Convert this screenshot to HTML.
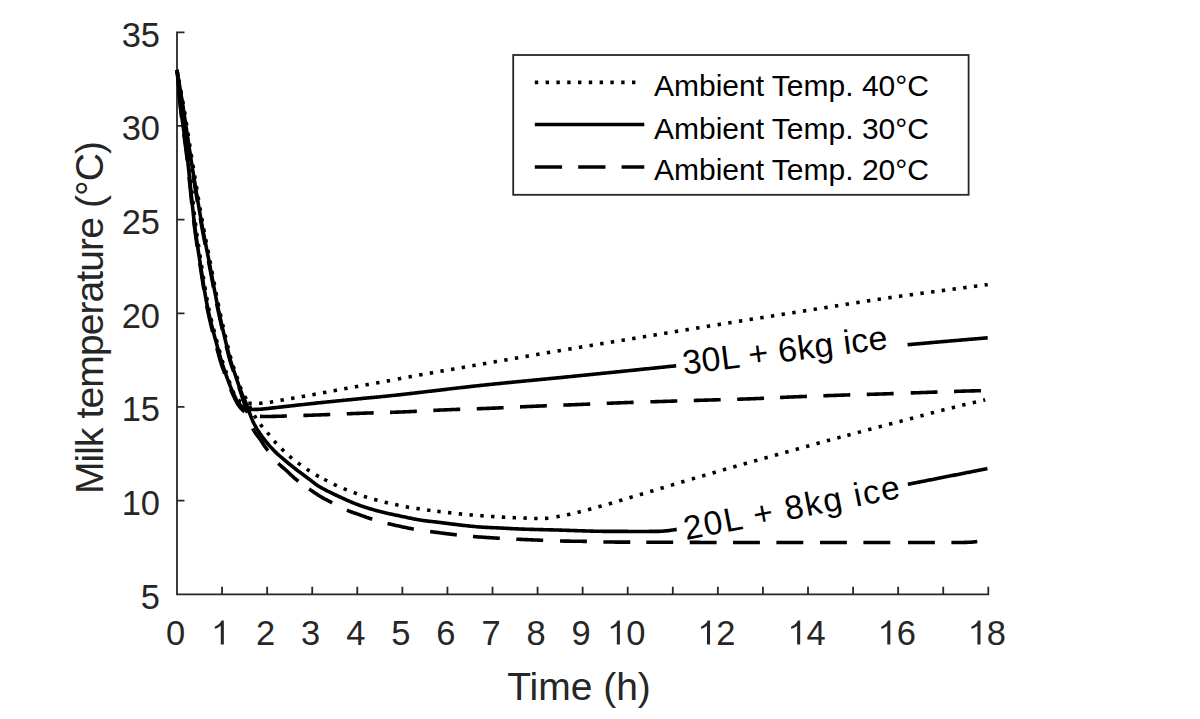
<!DOCTYPE html>
<html><head><meta charset="utf-8"><style>
html,body{margin:0;padding:0;background:#fff;}
svg{display:block;}
text{font-family:"Liberation Sans",sans-serif;}
</style></head><body>
<svg width="1200" height="719" viewBox="0 0 1200 719">
<rect width="1200" height="719" fill="#fff"/>
<g fill="none" stroke="#262626" stroke-width="1.8" stroke-linecap="butt" stroke-linejoin="miter">
<path d="M184.50 32.30H177.00V594.30H988.30V586.80 M177.00 594.30V586.80 M222.07 594.30V586.80 M267.14 594.30V586.80 M312.22 594.30V586.80 M357.29 594.30V586.80 M402.36 594.30V586.80 M447.43 594.30V586.80 M492.51 594.30V586.80 M537.58 594.30V586.80 M582.65 594.30V586.80 M627.72 594.30V586.80 M672.79 594.30V586.80 M717.87 594.30V586.80 M762.94 594.30V586.80 M808.01 594.30V586.80 M853.08 594.30V586.80 M898.16 594.30V586.80 M943.23 594.30V586.80 M988.30 594.30V586.80 M177.00 594.30H184.50 M177.00 500.63H184.50 M177.00 406.97H184.50 M177.00 313.30H184.50 M177.00 219.63H184.50 M177.00 125.97H184.50 M177.00 32.30H184.50"/>
</g>
<g fill="#262626" font-size="34.5">
<text x="165.91" y="644.5">0</text><path d="M223.83 644.50 220.80 644.50 220.80 625.63 219.70 626.61 218.27 627.60 216.64 628.33 214.74 628.87 214.74 626.64 217.38 625.30 219.33 623.75 220.72 622.10 221.54 620.41 223.83 620.41Z"/><text x="256.05" y="644.5">2</text><text x="301.12" y="644.5">3</text><text x="346.20" y="644.5">4</text><text x="391.27" y="644.5">5</text><text x="436.34" y="644.5">6</text><text x="481.41" y="644.5">7</text><text x="526.48" y="644.5">8</text><text x="571.56" y="644.5">9</text><path d="M619.89 644.50 616.86 644.50 616.86 625.63 615.76 626.61 614.33 627.60 612.70 628.33 610.79 628.87 610.79 626.64 613.44 625.30 615.39 623.75 616.77 622.10 617.60 620.41 619.89 620.41Z"/><text x="626.22" y="644.5">0</text><path d="M710.03 644.50 707.00 644.50 707.00 625.63 705.91 626.61 704.47 627.60 702.84 628.33 700.94 628.87 700.94 626.64 703.58 625.30 705.53 623.75 706.92 622.10 707.74 620.41 710.03 620.41Z"/><text x="716.37" y="644.5">2</text><path d="M800.18 644.50 797.14 644.50 797.14 625.63 796.05 626.61 794.62 627.60 792.98 628.33 791.08 628.87 791.08 626.64 793.73 625.30 795.68 623.75 797.06 622.10 797.89 620.41 800.18 620.41Z"/><text x="806.51" y="644.5">4</text><path d="M890.32 644.50 887.29 644.50 887.29 625.63 886.19 626.61 884.76 627.60 883.13 628.33 881.22 628.87 881.22 626.64 883.87 625.30 885.82 623.75 887.21 622.10 888.03 620.41 890.32 620.41Z"/><text x="896.66" y="644.5">6</text><path d="M980.47 644.50 977.43 644.50 977.43 625.63 976.34 626.61 974.91 627.60 973.27 628.33 971.37 628.87 971.37 626.64 974.01 625.30 975.97 623.75 977.35 622.10 978.17 620.41 980.47 620.41Z"/><text x="986.80" y="644.5">8</text>
<text x="160" y="608.50" text-anchor="end">5</text><text x="160" y="514.83" text-anchor="end">10</text><text x="160" y="421.17" text-anchor="end">15</text><text x="160" y="327.50" text-anchor="end">20</text><text x="160" y="233.83" text-anchor="end">25</text><text x="160" y="140.17" text-anchor="end">30</text><text x="160" y="46.50" text-anchor="end">35</text>
</g>
<text x="579" y="700" text-anchor="middle" font-size="39" fill="#262626">Time (h)</text>
<text transform="translate(102.6 318) rotate(-90)" text-anchor="middle" font-size="39" letter-spacing="-0.9" fill="#262626">Milk temperature (°C)</text>
<g fill="none" stroke="#000" stroke-width="3.6" stroke-linejoin="round">
<path d="M177.00 70.00 177.05 70.52 177.11 71.09 177.16 71.69 177.23 72.34 177.29 73.02 177.36 73.74 177.43 74.49 177.50 75.28 177.58 76.10 177.66 76.95 177.74 77.83 177.82 78.74 177.91 79.68 178.00 80.64 178.09 81.63 178.19 82.64 178.28 83.67 178.38 84.72 178.48 85.79 178.59 86.88 178.69 87.98 178.80 89.09 178.91 90.22 179.02 91.36 179.13 92.51 179.25 93.67 179.36 94.83 179.48 96.00 179.60 97.18 179.72 98.36 179.85 99.54 179.97 100.72 180.09 101.90 180.22 103.08 180.35 104.25 180.48 105.42 180.61 106.58 180.74 107.73 180.87 108.87 181.00 110.00 181.11 110.90 181.22 111.81 181.33 112.72 181.44 113.63 181.56 114.55 181.67 115.48 181.79 116.41 181.91 117.34 182.03 118.28 182.16 119.22 182.28 120.16 182.41 121.11 182.54 122.06 182.67 123.02 182.80 123.98 182.93 124.95 183.06 125.92 183.20 126.89 183.33 127.87 183.47 128.85 183.60 129.83 183.74 130.82 183.88 131.82 184.02 132.81 184.16 133.81 184.30 134.82 184.44 135.83 184.58 136.84 184.72 137.85 184.86 138.87 185.00 139.90 185.14 140.92 185.28 141.95 185.42 142.99 185.56 144.02 185.70 145.06 185.84 146.11 185.98 147.16 186.12 148.21 186.26 149.26 186.40 150.32 186.53 151.38 186.67 152.45 186.81 153.52 186.94 154.59 187.07 155.67 187.21 156.74 187.34 157.83 187.47 158.91 187.60 160.00 187.71 160.93 187.82 161.87 187.93 162.82 188.04 163.77 188.15 164.74 188.26 165.71 188.36 166.70 188.47 167.69 188.58 168.68 188.69 169.69 188.80 170.70 188.91 171.72 189.02 172.74 189.13 173.77 189.23 174.80 189.34 175.83 189.45 176.87 189.56 177.92 189.67 178.97 189.78 180.02 189.88 181.07 189.99 182.12 190.10 183.18 190.21 184.24 190.32 185.30 190.42 186.36 190.53 187.42 190.64 188.48 190.75 189.53 190.85 190.59 190.96 191.65 191.07 192.70 191.17 193.75 191.28 194.80 191.39 195.85 191.49 196.89 191.60 197.93 191.71 198.96 191.81 199.99 191.92 201.02 192.02 202.03 192.13 203.05 192.24 204.06 192.34 205.06 192.45 206.05 192.55 207.04 192.66 208.01 192.76 208.98 192.87 209.94 192.97 210.90 193.07 211.84 193.18 212.77 193.28 213.70 193.38 214.61 193.49 215.51 193.59 216.40 193.69 217.28 193.80 218.15 193.90 219.00 194.05 220.21 194.19 221.39 194.33 222.54 194.47 223.68 194.61 224.79 194.75 225.88 194.89 226.95 195.02 228.00 195.16 229.03 195.29 230.05 195.42 231.06 195.56 232.05 195.69 233.02 195.82 233.99 195.95 234.94 196.08 235.89 196.21 236.83 196.34 237.76 196.47 238.68 196.60 239.60 196.73 240.52 196.87 241.44 197.00 242.35 197.14 243.27 197.27 244.18 197.41 245.10 197.55 246.02 197.69 246.95 197.83 247.89 197.97 248.83 198.12 249.78 198.26 250.74 198.41 251.71 198.56 252.69 198.72 253.68 198.87 254.69 199.03 255.72 199.20 256.76 199.36 257.82 199.53 258.90 199.70 260.00 199.84 260.91 199.99 261.84 200.13 262.77 200.27 263.71 200.42 264.66 200.57 265.61 200.71 266.58 200.86 267.55 201.01 268.52 201.16 269.50 201.31 270.49 201.47 271.49 201.62 272.48 201.77 273.49 201.93 274.50 202.08 275.51 202.24 276.52 202.40 277.54 202.56 278.57 202.72 279.59 202.88 280.62 203.04 281.65 203.21 282.68 203.37 283.72 203.54 284.75 203.70 285.79 203.87 286.82 204.04 287.86 204.21 288.89 204.38 289.93 204.56 290.96 204.73 292.00 204.91 293.03 205.08 294.06 205.26 295.08 205.44 296.11 205.62 297.13 205.81 298.15 205.99 299.16 206.17 300.18 206.36 301.18 206.55 302.19 206.74 303.18 206.93 304.18 207.12 305.16 207.31 306.14 207.51 307.12 207.70 308.09 207.90 309.05 208.10 310.00 208.32 311.04 208.55 312.08 208.78 313.13 209.01 314.18 209.25 315.24 209.49 316.30 209.74 317.37 209.99 318.44 210.25 319.51 210.50 320.58 210.77 321.65 211.03 322.72 211.29 323.80 211.56 324.87 211.83 325.94 212.10 327.01 212.38 328.07 212.65 329.14 212.92 330.19 213.20 331.25 213.47 332.30 213.75 333.34 214.03 334.38 214.30 335.40 214.57 336.43 214.85 337.44 215.12 338.44 215.39 339.44 215.66 340.42 215.92 341.39 216.19 342.36 216.45 343.31 216.71 344.24 216.96 345.17 217.22 346.08 217.47 346.97 217.71 347.85 217.95 348.72 218.19 349.57 218.42 350.40 218.65 351.21 218.87 352.01 219.09 352.79 219.30 353.55 219.50 354.28 219.70 355.00 220.14 356.57 220.55 358.03 220.94 359.39 221.32 360.66 221.67 361.85 222.01 362.96 222.33 364.01 222.64 364.99 222.95 365.92 223.24 366.81 223.52 367.66 223.80 368.49 224.08 369.29 224.36 370.08 224.64 370.87 224.92 371.66 225.20 372.46 225.49 373.27 225.79 374.12 226.10 375.00 226.47 376.05 226.84 377.10 227.22 378.13 227.59 379.15 227.96 380.16 228.33 381.15 228.70 382.13 229.07 383.10 229.44 384.05 229.81 384.98 230.17 385.90 230.53 386.80 230.89 387.68 231.25 388.54 231.60 389.38 231.95 390.20 232.30 391.00 232.78 392.10 233.25 393.16 233.72 394.18 234.18 395.16 234.63 396.11 235.08 397.02 235.53 397.90 235.98 398.74 236.43 399.55 236.88 400.33 237.34 401.08 237.80 401.80 238.51 402.82 239.23 403.76 239.95 404.63 240.68 405.43 241.40 406.16 242.12 406.81 242.82 407.39 243.50 407.90 244.52 408.52 245.48 408.90 246.43 409.13 247.42 409.27 248.50 409.40 249.49 409.49 250.54 409.52 251.62 409.51 252.74 409.48 253.87 409.43 255.00 409.40 255.88 409.39 256.64 409.39 257.39 409.38 258.20 409.36 259.18 409.32 260.42 409.23 262.00 409.10 262.70 409.03 263.40 408.97 264.11 408.89 264.84 408.82 265.59 408.73 266.37 408.65 267.18 408.56 268.04 408.46 268.94 408.36 269.89 408.25 270.89 408.13 271.96 408.01 273.10 407.88 274.31 407.74 275.60 407.59 276.97 407.44 278.44 407.27 280.00 407.10 280.74 407.02 281.50 406.93 282.29 406.85 283.11 406.76 283.95 406.66 284.81 406.57 285.69 406.47 286.59 406.37 287.51 406.26 288.45 406.16 289.41 406.05 290.38 405.94 291.37 405.83 292.37 405.72 293.39 405.61 294.42 405.49 295.45 405.38 296.50 405.26 297.56 405.14 298.62 405.03 299.70 404.91 300.77 404.79 301.86 404.67 302.94 404.55 304.03 404.43 305.12 404.31 306.22 404.19 307.31 404.07 308.40 403.95 309.48 403.83 310.57 403.71 311.65 403.59 312.72 403.48 313.79 403.36 314.85 403.25 315.90 403.13 316.94 403.02 317.97 402.91 318.99 402.81 320.00 402.70 321.00 402.60 322.00 402.49 323.00 402.39 324.00 402.28 325.00 402.18 326.00 402.08 327.00 401.98 328.00 401.87 329.00 401.77 330.00 401.67 331.00 401.57 332.00 401.47 333.00 401.37 334.00 401.27 335.00 401.17 336.00 401.07 337.00 400.97 338.00 400.87 339.00 400.77 340.00 400.67 341.00 400.58 342.00 400.48 343.00 400.38 344.00 400.28 345.00 400.18 346.00 400.08 347.00 399.99 348.00 399.89 349.00 399.79 350.00 399.69 351.00 399.59 352.00 399.49 353.00 399.39 354.00 399.30 355.00 399.20 356.00 399.10 357.00 399.00 358.00 398.90 359.00 398.80 360.00 398.70 360.99 398.60 361.95 398.51 362.90 398.41 363.82 398.32 364.73 398.24 365.62 398.15 366.49 398.07 367.36 397.98 368.22 397.90 369.06 397.82 369.90 397.74 370.74 397.66 371.57 397.59 372.41 397.51 373.24 397.43 374.08 397.35 374.92 397.27 375.77 397.19 376.63 397.11 377.50 397.02 378.38 396.94 379.28 396.85 380.19 396.77 381.12 396.67 382.07 396.58 383.04 396.48 384.04 396.39 385.06 396.28 386.11 396.18 387.19 396.07 388.30 395.95 389.44 395.83 390.62 395.71 391.83 395.58 393.09 395.45 394.38 395.31 395.72 395.17 397.10 395.02 398.52 394.86 400.00 394.70 400.76 394.62 401.52 394.53 402.31 394.44 403.10 394.36 403.90 394.27 404.72 394.17 405.54 394.08 406.38 393.98 407.23 393.89 408.09 393.79 408.95 393.69 409.83 393.59 410.72 393.49 411.62 393.38 412.52 393.28 413.44 393.17 414.36 393.06 415.30 392.96 416.24 392.85 417.19 392.74 418.14 392.62 419.11 392.51 420.08 392.40 421.06 392.28 422.05 392.17 423.04 392.05 424.04 391.93 425.04 391.81 426.05 391.69 427.07 391.57 428.09 391.45 429.12 391.33 430.15 391.21 431.19 391.09 432.23 390.96 433.28 390.84 434.33 390.72 435.38 390.59 436.44 390.47 437.50 390.34 438.56 390.22 439.63 390.09 440.70 389.97 441.77 389.84 442.85 389.71 443.92 389.59 445.00 389.46 446.08 389.34 447.16 389.21 448.24 389.08 449.32 388.96 450.41 388.83 451.49 388.70 452.57 388.58 453.66 388.45 454.74 388.33 455.82 388.20 456.90 388.08 457.98 387.95 459.06 387.83 460.14 387.71 461.22 387.58 462.29 387.46 463.36 387.34 464.43 387.22 465.49 387.10 466.56 386.98 467.62 386.86 468.67 386.74 469.73 386.62 470.78 386.51 471.82 386.39 472.86 386.28 473.90 386.16 474.93 386.05 475.95 385.94 476.97 385.83 477.99 385.72 479.00 385.61 480.00 385.50 481.00 385.39 482.01 385.29 483.02 385.18 484.03 385.07 485.04 384.97 486.06 384.86 487.08 384.75 488.11 384.65 489.14 384.54 490.17 384.43 491.20 384.33 492.23 384.22 493.27 384.12 494.31 384.01 495.35 383.91 496.39 383.80 497.43 383.69 498.48 383.59 499.52 383.48 500.57 383.38 501.62 383.28 502.67 383.17 503.72 383.07 504.77 382.96 505.82 382.86 506.87 382.75 507.92 382.65 508.97 382.55 510.02 382.44 511.07 382.34 512.12 382.24 513.17 382.14 514.21 382.03 515.26 381.93 516.31 381.83 517.35 381.73 518.40 381.63 519.44 381.53 520.48 381.43 521.52 381.32 522.56 381.22 523.59 381.12 524.62 381.03 525.65 380.93 526.68 380.83 527.71 380.73 528.73 380.63 529.75 380.53 530.77 380.43 531.78 380.34 532.79 380.24 533.80 380.14 534.80 380.05 535.80 379.95 536.79 379.86 537.79 379.76 538.77 379.67 539.76 379.57 540.73 379.48 541.71 379.38 542.68 379.29 543.64 379.20 544.60 379.10 545.56 379.01 546.50 378.92 547.45 378.83 548.38 378.74 549.32 378.65 550.24 378.56 551.16 378.47 552.08 378.38 552.98 378.29 553.89 378.20 554.78 378.12 555.67 378.03 556.55 377.94 557.42 377.86 558.29 377.77 559.15 377.68 560.00 377.60 561.22 377.48 562.43 377.36 563.62 377.24 564.80 377.12 565.96 377.01 567.10 376.89 568.23 376.78 569.35 376.67 570.45 376.56 571.54 376.45 572.62 376.34 573.68 376.24 574.74 376.13 575.78 376.03 576.81 375.92 577.84 375.82 578.85 375.72 579.86 375.62 580.85 375.52 581.84 375.42 582.82 375.32 583.80 375.22 584.77 375.13 585.73 375.03 586.69 374.93 587.64 374.84 588.60 374.74 589.54 374.65 590.49 374.55 591.43 374.46 592.37 374.36 593.30 374.27 594.24 374.17 595.18 374.08 596.11 373.98 597.05 373.89 597.99 373.79 598.93 373.70 599.87 373.60 600.82 373.51 601.77 373.41 602.72 373.32 603.68 373.22 604.64 373.12 605.61 373.02 606.58 372.92 607.56 372.83 608.55 372.73 609.54 372.62 610.55 372.52 611.56 372.42 612.58 372.32 613.61 372.21 614.65 372.11 615.70 372.00 616.68 371.90 617.67 371.80 618.69 371.70 619.72 371.59 620.77 371.48 621.83 371.38 622.90 371.27 623.99 371.16 625.09 371.04 626.21 370.93 627.33 370.81 628.46 370.70 629.60 370.58 630.75 370.47 631.91 370.35 633.07 370.23 634.23 370.11 635.40 369.99 636.58 369.87 637.75 369.75 638.93 369.63 640.11 369.51 641.28 369.39 642.46 369.27 643.63 369.15 644.80 369.03 645.97 368.91 647.13 368.79 648.28 368.67 649.43 368.55 650.57 368.43 651.70 368.32 652.83 368.20 653.94 368.09 655.04 367.97 656.13 367.86 657.20 367.75 658.26 367.64 659.31 367.54 660.34 367.43 661.35 367.33 662.35 367.22 663.32 367.12 664.28 367.02 665.22 366.93 666.13 366.83 667.03 366.74 667.90 366.65 668.74 366.57 669.56 366.48 670.36 366.40 671.13 366.32 671.87 366.24 672.58 366.17 673.26 366.10 673.91 366.03 674.53 365.97 675.12 365.91 675.68 365.85 676.20 365.80"/>
<path d="M907.60 344.70 908.13 344.65 908.71 344.60 909.33 344.55 910.00 344.49 910.72 344.43 911.47 344.36 912.27 344.29 913.10 344.22 913.97 344.14 914.87 344.06 915.80 343.98 916.76 343.90 917.75 343.81 918.77 343.72 919.81 343.63 920.87 343.54 921.95 343.44 923.05 343.35 924.17 343.25 925.30 343.15 926.44 343.05 927.60 342.95 928.76 342.85 929.93 342.74 931.11 342.64 932.29 342.54 933.47 342.44 934.64 342.33 935.82 342.23 936.99 342.13 938.16 342.03 939.31 341.93 940.46 341.83 941.59 341.73 942.71 341.63 943.82 341.53 944.90 341.44 945.97 341.35 947.02 341.26 948.04 341.17 949.03 341.08 950.00 341.00 951.09 340.91 952.20 340.81 953.33 340.71 954.47 340.62 955.63 340.52 956.80 340.42 957.97 340.32 959.15 340.22 960.34 340.12 961.53 340.01 962.72 339.91 963.91 339.81 965.10 339.71 966.29 339.61 967.46 339.51 968.63 339.41 969.79 339.31 970.93 339.22 972.06 339.12 973.18 339.03 974.27 338.93 975.35 338.84 976.40 338.75 977.43 338.67 978.43 338.58 979.41 338.50 980.35 338.42 981.26 338.34 982.14 338.27 982.98 338.20 983.78 338.13 984.55 338.07 985.27 338.01 985.95 337.95 986.58 337.89 987.17 337.85 987.70 337.80"/>
<path d="M177.00 70.00 177.08 70.52 177.18 71.09 177.28 71.69 177.38 72.34 177.49 73.02 177.61 73.74 177.74 74.49 177.87 75.28 178.00 76.10 178.14 76.95 178.29 77.83 178.44 78.74 178.59 79.68 178.75 80.64 178.91 81.63 179.08 82.64 179.25 83.67 179.42 84.72 179.60 85.79 179.78 86.88 179.96 87.98 180.14 89.09 180.32 90.22 180.51 91.36 180.70 92.51 180.88 93.67 181.07 94.83 181.26 96.00 181.45 97.18 181.65 98.36 181.84 99.54 182.03 100.72 182.21 101.90 182.40 103.08 182.59 104.25 182.78 105.42 182.96 106.58 183.14 107.73 183.32 108.87 183.50 110.00 183.64 110.90 183.78 111.81 183.92 112.72 184.06 113.63 184.21 114.55 184.35 115.48 184.49 116.41 184.63 117.34 184.77 118.28 184.91 119.22 185.06 120.16 185.20 121.11 185.34 122.06 185.49 123.02 185.63 123.98 185.77 124.95 185.92 125.92 186.06 126.89 186.21 127.87 186.36 128.85 186.50 129.83 186.65 130.82 186.80 131.82 186.94 132.81 187.09 133.81 187.24 134.82 187.39 135.83 187.54 136.84 187.70 137.85 187.85 138.87 188.00 139.90 188.16 140.92 188.31 141.95 188.47 142.99 188.62 144.02 188.78 145.06 188.94 146.11 189.10 147.16 189.26 148.21 189.42 149.26 189.58 150.32 189.75 151.38 189.91 152.45 190.08 153.52 190.25 154.59 190.41 155.67 190.58 156.74 190.75 157.83 190.93 158.91 191.10 160.00 191.25 160.93 191.40 161.87 191.55 162.82 191.70 163.77 191.86 164.74 192.02 165.71 192.17 166.70 192.33 167.69 192.49 168.68 192.66 169.69 192.82 170.70 192.98 171.72 193.15 172.74 193.31 173.77 193.48 174.80 193.65 175.83 193.82 176.87 193.99 177.92 194.16 178.97 194.33 180.02 194.50 181.07 194.68 182.12 194.85 183.18 195.02 184.24 195.20 185.30 195.37 186.36 195.54 187.42 195.72 188.48 195.89 189.53 196.07 190.59 196.24 191.65 196.42 192.70 196.59 193.75 196.77 194.80 196.94 195.85 197.12 196.89 197.29 197.93 197.46 198.96 197.64 199.99 197.81 201.02 197.98 202.03 198.15 203.05 198.32 204.06 198.49 205.06 198.66 206.05 198.83 207.04 198.99 208.01 199.16 208.98 199.32 209.94 199.49 210.90 199.65 211.84 199.81 212.77 199.97 213.70 200.13 214.61 200.29 215.51 200.44 216.40 200.60 217.28 200.75 218.15 200.90 219.00 201.11 220.21 201.33 221.39 201.53 222.54 201.74 223.68 201.94 224.79 202.14 225.88 202.34 226.95 202.53 228.00 202.73 229.03 202.92 230.05 203.11 231.06 203.30 232.05 203.48 233.02 203.67 233.99 203.85 234.94 204.04 235.89 204.22 236.83 204.40 237.76 204.58 238.68 204.77 239.60 204.95 240.52 205.13 241.44 205.31 242.35 205.49 243.27 205.67 244.18 205.86 245.10 206.04 246.02 206.23 246.95 206.41 247.89 206.60 248.83 206.79 249.78 206.98 250.74 207.17 251.71 207.37 252.69 207.57 253.68 207.76 254.69 207.97 255.72 208.17 256.76 208.38 257.82 208.59 258.90 208.80 260.00 208.98 260.91 209.15 261.84 209.33 262.77 209.51 263.71 209.69 264.66 209.88 265.61 210.06 266.58 210.24 267.55 210.43 268.52 210.61 269.50 210.80 270.49 210.99 271.49 211.17 272.48 211.36 273.49 211.55 274.50 211.74 275.51 211.93 276.52 212.13 277.54 212.32 278.57 212.51 279.59 212.71 280.62 212.90 281.65 213.10 282.68 213.29 283.72 213.49 284.75 213.68 285.79 213.88 286.82 214.08 287.86 214.28 288.89 214.48 289.93 214.67 290.96 214.87 292.00 215.07 293.03 215.27 294.06 215.47 295.08 215.68 296.11 215.88 297.13 216.08 298.15 216.28 299.16 216.48 300.18 216.68 301.18 216.88 302.19 217.09 303.18 217.29 304.18 217.49 305.16 217.69 306.14 217.89 307.12 218.10 308.09 218.30 309.05 218.50 310.00 218.72 311.04 218.94 312.08 219.17 313.13 219.40 314.18 219.63 315.24 219.86 316.30 220.10 317.37 220.33 318.44 220.57 319.51 220.81 320.58 221.05 321.65 221.29 322.72 221.53 323.80 221.77 324.87 222.02 325.94 222.26 327.01 222.50 328.07 222.75 329.14 222.99 330.19 223.23 331.25 223.48 332.30 223.72 333.34 223.96 334.38 224.20 335.40 224.44 336.43 224.68 337.44 224.92 338.44 225.16 339.44 225.39 340.42 225.63 341.39 225.86 342.36 226.09 343.31 226.32 344.24 226.54 345.17 226.76 346.08 226.98 346.97 227.20 347.85 227.41 348.72 227.62 349.57 227.83 350.40 228.04 351.21 228.24 352.01 228.43 352.79 228.63 353.55 228.82 354.28 229.00 355.00 229.41 356.57 229.80 358.03 230.18 359.38 230.54 360.65 230.88 361.83 231.21 362.93 231.53 363.97 231.84 364.94 232.14 365.87 232.44 366.75 232.73 367.60 233.01 368.42 233.29 369.22 233.57 370.01 233.85 370.80 234.13 371.59 234.42 372.40 234.71 373.23 235.00 374.10 235.30 375.00 235.66 376.08 236.01 377.16 236.37 378.22 236.72 379.28 237.07 380.32 237.42 381.36 237.76 382.38 238.11 383.40 238.45 384.40 238.80 385.39 239.14 386.37 239.48 387.34 239.83 388.30 240.17 389.24 240.51 390.17 240.86 391.09 241.20 392.00 241.62 393.07 242.03 394.10 242.44 395.09 242.85 396.05 243.26 396.99 243.67 397.91 244.07 398.83 244.48 399.74 244.90 400.66 245.31 401.59 245.73 402.55 246.15 403.53 246.57 404.54 247.00 405.60 247.35 406.50 247.70 407.43 248.05 408.38 248.39 409.34 248.74 410.33 249.08 411.32 249.43 412.33 249.78 413.34 250.13 414.35 250.50 415.36 250.86 416.38 251.24 417.38 251.63 418.38 252.03 419.36 252.44 420.32 252.86 421.27 253.30 422.20 253.75 423.11 254.21 424.01 254.69 424.90 255.17 425.78 255.66 426.66 256.16 427.52 256.66 428.38 257.18 429.23 257.71 430.08 258.24 430.92 258.78 431.76 259.33 432.59 259.89 433.42 260.46 434.24 261.03 435.06 261.61 435.88 262.20 436.70 262.80 437.52 263.41 438.34 264.04 439.16 264.68 439.98 265.33 440.80 265.99 441.62 266.65 442.43 267.32 443.23 268.00 444.03 268.68 444.82 269.36 445.60 270.04 446.37 270.72 447.12 271.40 447.87 272.07 448.59 272.74 449.31 273.40 450.00 274.20 450.82 274.99 451.61 275.79 452.38 276.58 453.13 277.37 453.86 278.16 454.57 278.96 455.27 279.75 455.96 280.54 456.64 281.33 457.31 282.12 457.98 282.92 458.65 283.71 459.32 284.50 460.00 285.29 460.67 286.07 461.33 286.84 461.98 287.60 462.62 288.37 463.25 289.14 463.87 289.91 464.50 290.68 465.13 291.47 465.75 292.26 466.38 293.07 467.02 293.89 467.67 294.74 468.33 295.60 469.00 296.38 469.60 297.18 470.22 298.00 470.84 298.84 471.48 299.70 472.12 300.56 472.76 301.43 473.41 302.31 474.06 303.18 474.71 304.05 475.35 304.91 475.99 305.76 476.62 306.60 477.23 307.42 477.84 308.22 478.43 309.00 479.00 309.90 479.68 310.73 480.32 311.52 480.94 312.27 481.54 313.00 482.13 313.72 482.71 314.46 483.29 315.22 483.87 316.03 484.46 316.90 485.06 317.84 485.68 318.87 486.32 320.00 487.00 320.72 487.41 321.48 487.84 322.27 488.27 323.09 488.72 323.93 489.17 324.81 489.62 325.70 490.09 326.61 490.55 327.54 491.02 328.48 491.49 329.44 491.97 330.40 492.44 331.37 492.92 332.35 493.39 333.33 493.86 334.30 494.33 335.27 494.79 336.24 495.25 337.20 495.70 338.15 496.14 339.08 496.57 340.00 497.00 340.95 497.44 341.90 497.88 342.86 498.31 343.81 498.75 344.76 499.18 345.71 499.61 346.67 500.04 347.62 500.46 348.57 500.88 349.52 501.29 350.48 501.70 351.43 502.11 352.38 502.51 353.33 502.91 354.29 503.30 355.24 503.68 356.19 504.06 357.14 504.43 358.10 504.79 359.05 505.15 360.00 505.50 361.00 505.86 362.00 506.21 363.00 506.55 364.00 506.88 365.00 507.21 366.00 507.53 367.00 507.84 368.00 508.15 369.00 508.45 370.00 508.75 371.00 509.04 372.00 509.33 373.00 509.61 374.00 509.89 375.00 510.16 376.00 510.44 377.00 510.71 378.00 510.97 379.00 511.24 380.00 511.50 381.00 511.76 382.00 512.01 383.00 512.26 384.00 512.50 385.00 512.74 386.00 512.98 387.00 513.21 388.00 513.43 389.00 513.65 390.00 513.88 391.00 514.09 392.00 514.31 393.00 514.52 394.00 514.73 395.00 514.95 396.00 515.16 397.00 515.37 398.00 515.58 399.00 515.79 400.00 516.00 401.00 516.21 402.00 516.43 403.00 516.64 404.00 516.86 405.00 517.07 406.00 517.28 407.00 517.50 408.00 517.71 409.00 517.92 410.00 518.12 411.00 518.33 412.00 518.53 413.00 518.73 414.00 518.93 415.00 519.12 416.00 519.30 417.00 519.49 418.00 519.66 419.00 519.83 420.00 520.00 421.00 520.16 422.00 520.31 423.00 520.46 424.00 520.60 425.00 520.73 426.00 520.86 427.00 520.99 428.00 521.11 429.00 521.23 430.00 521.34 431.00 521.46 432.00 521.57 433.00 521.68 434.00 521.80 435.00 521.91 436.00 522.02 437.00 522.14 438.00 522.26 439.00 522.38 440.00 522.50 441.00 522.63 442.00 522.75 443.00 522.88 444.00 523.01 445.00 523.14 446.00 523.27 447.00 523.39 448.00 523.52 449.00 523.65 450.00 523.78 451.00 523.91 452.00 524.04 453.00 524.16 454.00 524.29 455.00 524.41 456.00 524.53 457.00 524.65 458.00 524.77 459.00 524.89 460.00 525.00 461.00 525.11 462.00 525.22 463.00 525.34 464.00 525.45 465.00 525.56 466.00 525.67 467.00 525.78 468.00 525.88 469.00 525.99 470.00 526.09 471.00 526.20 472.00 526.30 473.00 526.39 474.00 526.49 475.00 526.58 476.00 526.67 477.00 526.76 478.00 526.84 479.00 526.92 480.00 527.00 481.00 527.07 482.00 527.14 483.00 527.20 484.00 527.26 485.00 527.32 486.00 527.37 487.00 527.42 488.00 527.47 489.00 527.52 490.00 527.56 491.00 527.61 492.00 527.65 493.00 527.69 494.00 527.73 495.00 527.77 496.00 527.82 497.00 527.86 498.00 527.90 499.00 527.95 500.00 528.00 501.00 528.05 502.00 528.10 503.00 528.15 504.00 528.21 505.00 528.26 506.00 528.31 507.00 528.37 508.00 528.42 509.00 528.47 510.00 528.52 511.00 528.58 512.00 528.63 513.00 528.68 514.00 528.73 515.00 528.78 516.00 528.83 517.00 528.87 518.00 528.92 519.00 528.96 520.00 529.00 521.00 529.04 522.00 529.08 523.00 529.11 524.00 529.15 525.00 529.18 526.00 529.21 527.00 529.24 528.00 529.27 529.00 529.30 530.00 529.33 531.00 529.36 532.00 529.39 533.00 529.41 534.00 529.44 535.00 529.47 536.00 529.49 537.00 529.52 538.00 529.55 539.00 529.57 540.00 529.60 540.98 529.63 541.93 529.65 542.86 529.67 543.76 529.70 544.65 529.72 545.53 529.74 546.40 529.76 547.28 529.78 548.16 529.80 549.06 529.82 549.98 529.84 550.92 529.86 551.89 529.88 552.90 529.91 553.95 529.94 555.04 529.96 556.19 529.99 557.39 530.03 558.66 530.06 560.00 530.10 560.80 530.12 561.64 530.15 562.50 530.18 563.40 530.20 564.32 530.23 565.26 530.26 566.23 530.30 567.22 530.33 568.22 530.36 569.25 530.40 570.29 530.43 571.34 530.47 572.41 530.50 573.48 530.54 574.56 530.58 575.65 530.61 576.75 530.65 577.84 530.69 578.94 530.72 580.03 530.76 581.12 530.80 582.21 530.83 583.29 530.87 584.36 530.90 585.42 530.93 586.46 530.97 587.49 531.00 588.51 531.03 589.51 531.06 590.48 531.08 591.44 531.11 592.37 531.14 593.27 531.16 594.15 531.18 595.00 531.20 596.24 531.23 597.41 531.25 598.53 531.27 599.60 531.29 600.63 531.31 601.62 531.32 602.58 531.33 603.51 531.34 604.42 531.35 605.32 531.36 606.21 531.37 607.09 531.37 607.98 531.38 608.88 531.38 609.79 531.38 610.72 531.38 611.68 531.38 612.67 531.39 613.70 531.39 614.77 531.39 615.89 531.39 617.06 531.40 618.30 531.40 619.15 531.40 620.04 531.41 620.96 531.41 621.91 531.41 622.89 531.41 623.90 531.42 624.92 531.42 625.97 531.42 627.04 531.42 628.13 531.43 629.22 531.43 630.33 531.43 631.45 531.43 632.58 531.43 633.70 531.43 634.83 531.44 635.96 531.44 637.09 531.44 638.21 531.44 639.32 531.44 640.42 531.44 641.50 531.44 642.57 531.44 643.63 531.44 644.66 531.43 645.67 531.43 646.65 531.43 647.60 531.43 648.53 531.43 649.42 531.42 650.28 531.42 651.10 531.42 651.87 531.41 652.61 531.41 653.30 531.40 655.24 531.38 656.85 531.37 658.17 531.35 659.27 531.33 660.19 531.31 660.99 531.29 661.73 531.25 662.44 531.21 663.19 531.15 664.02 531.08 665.00 531.00 666.11 530.89 667.29 530.76 668.51 530.61 669.75 530.44 670.98 530.26 672.17 530.09 673.31 529.91 674.35 529.75 675.28 529.61 676.08 529.49 676.70 529.40"/>
<path d="M907.80 484.30 908.31 484.20 908.85 484.09 909.43 483.98 910.05 483.86 910.69 483.73 911.37 483.60 912.08 483.46 912.82 483.31 913.59 483.16 914.38 483.00 915.21 482.84 916.06 482.67 916.93 482.50 917.83 482.32 918.76 482.14 919.71 481.95 920.68 481.76 921.67 481.56 922.68 481.37 923.71 481.16 924.76 480.96 925.82 480.75 926.91 480.53 928.00 480.31 929.12 480.10 930.24 479.87 931.39 479.65 932.54 479.42 933.70 479.19 934.88 478.96 936.06 478.73 937.25 478.49 938.45 478.25 939.66 478.02 940.87 477.78 942.09 477.54 943.31 477.30 944.53 477.06 945.76 476.81 946.99 476.57 948.21 476.33 949.44 476.09 950.67 475.84 951.89 475.60 953.11 475.36 954.33 475.12 955.54 474.88 956.75 474.65 957.95 474.41 959.14 474.17 960.32 473.94 961.50 473.71 962.66 473.48 963.81 473.25 964.96 473.03 966.08 472.80 967.20 472.59 968.29 472.37 969.38 472.15 970.44 471.94 971.49 471.74 972.52 471.53 973.53 471.34 974.52 471.14 975.49 470.95 976.44 470.76 977.37 470.58 978.27 470.40 979.14 470.23 979.99 470.06 980.82 469.90 981.61 469.74 982.38 469.59 983.12 469.44 983.83 469.30 984.51 469.17 985.15 469.04 985.77 468.92 986.35 468.81 986.89 468.70 987.40 468.60"/>
<path d="M177.00 70.00 177.06 70.52 177.13 71.09 177.20 71.69 177.28 72.34 177.36 73.02 177.44 73.74 177.53 74.49 177.62 75.28 177.72 76.10 177.82 76.95 177.92 77.83 178.03 78.74 178.14 79.68 178.25 80.64 178.36 81.63 178.48 82.64 178.60 83.67 178.73 84.72 178.85 85.79 178.98 86.88 179.11 87.98 179.24 89.09 179.38 90.22 179.51 91.36 179.65 92.51 179.79 93.67 179.93 94.83 180.07 96.00 180.21 97.18 180.35 98.36 180.50 99.54 180.64 100.72 180.79 101.90 180.93 103.08 181.08 104.25 181.22 105.42 181.37 106.58 181.51 107.73 181.66 108.87 181.80 110.00 181.92 110.90 182.03 111.81 182.15 112.72 182.27 113.63 182.39 114.55 182.52 115.48 182.64 116.41 182.77 117.34 182.90 118.28 183.02 119.22 183.15 120.16 183.28 121.11 183.41 122.06 183.55 123.02 183.68 123.98 183.81 124.95 183.95 125.92 184.08 126.89 184.22 127.87 184.36 128.85 184.50 129.83 184.63 130.82 184.77 131.82 184.91 132.81 185.05 133.81 185.19 134.82 185.33 135.83 185.47 136.84 185.61 137.85 185.75 138.87 185.89 139.90 186.03 140.92 186.17 141.95 186.31 142.99 186.45 144.02 186.59 145.06 186.73 146.11 186.87 147.16 187.01 148.21 187.15 149.26 187.29 150.32 187.42 151.38 187.56 152.45 187.70 153.52 187.83 154.59 187.97 155.67 188.10 156.74 188.24 157.83 188.37 158.91 188.50 160.00 188.61 160.93 188.72 161.87 188.83 162.82 188.94 163.77 189.05 164.74 189.17 165.71 189.28 166.70 189.39 167.69 189.50 168.68 189.61 169.69 189.72 170.70 189.83 171.72 189.94 172.74 190.05 173.77 190.16 174.80 190.27 175.83 190.38 176.87 190.49 177.92 190.60 178.97 190.71 180.02 190.82 181.07 190.93 182.12 191.04 183.18 191.15 184.24 191.26 185.30 191.37 186.36 191.48 187.42 191.59 188.48 191.70 189.53 191.81 190.59 191.92 191.65 192.03 192.70 192.14 193.75 192.25 194.80 192.35 195.85 192.46 196.89 192.57 197.93 192.68 198.96 192.79 199.99 192.89 201.02 193.00 202.03 193.11 203.05 193.22 204.06 193.32 205.06 193.43 206.05 193.54 207.04 193.64 208.01 193.75 208.98 193.85 209.94 193.96 210.90 194.06 211.84 194.17 212.77 194.28 213.70 194.38 214.61 194.48 215.51 194.59 216.40 194.69 217.28 194.80 218.15 194.90 219.00 195.05 220.21 195.19 221.39 195.34 222.54 195.48 223.68 195.62 224.79 195.76 225.88 195.89 226.95 196.03 228.00 196.16 229.03 196.30 230.05 196.43 231.06 196.56 232.05 196.69 233.02 196.83 233.99 196.96 234.94 197.09 235.89 197.22 236.83 197.35 237.76 197.48 238.68 197.61 239.60 197.74 240.52 197.87 241.44 198.01 242.35 198.14 243.27 198.28 244.18 198.41 245.10 198.55 246.02 198.69 246.95 198.83 247.89 198.97 248.83 199.12 249.78 199.26 250.74 199.41 251.71 199.56 252.69 199.72 253.68 199.87 254.69 200.03 255.72 200.20 256.76 200.36 257.82 200.53 258.90 200.70 260.00 200.84 260.91 200.99 261.84 201.13 262.77 201.27 263.71 201.42 264.66 201.57 265.61 201.71 266.58 201.86 267.55 202.01 268.52 202.16 269.50 202.31 270.49 202.47 271.49 202.62 272.48 202.77 273.49 202.93 274.50 203.08 275.51 203.24 276.52 203.40 277.54 203.56 278.57 203.72 279.59 203.88 280.62 204.04 281.65 204.21 282.68 204.37 283.72 204.54 284.75 204.70 285.79 204.87 286.82 205.04 287.86 205.21 288.89 205.38 289.93 205.56 290.96 205.73 292.00 205.91 293.03 206.08 294.06 206.26 295.08 206.44 296.11 206.62 297.13 206.81 298.15 206.99 299.16 207.17 300.18 207.36 301.18 207.55 302.19 207.74 303.18 207.93 304.18 208.12 305.16 208.31 306.14 208.51 307.12 208.70 308.09 208.90 309.05 209.10 310.00 209.32 311.04 209.55 312.08 209.78 313.13 210.01 314.18 210.25 315.24 210.49 316.30 210.74 317.37 210.99 318.44 211.25 319.51 211.50 320.58 211.77 321.65 212.03 322.72 212.29 323.80 212.56 324.87 212.83 325.94 213.10 327.01 213.38 328.07 213.65 329.14 213.92 330.19 214.20 331.25 214.47 332.30 214.75 333.34 215.03 334.38 215.30 335.40 215.57 336.43 215.85 337.44 216.12 338.44 216.39 339.44 216.66 340.42 216.92 341.39 217.19 342.36 217.45 343.31 217.71 344.24 217.96 345.17 218.22 346.08 218.47 346.97 218.71 347.85 218.95 348.72 219.19 349.57 219.42 350.40 219.65 351.21 219.87 352.01 220.09 352.79 220.30 353.55 220.50 354.28 220.70 355.00 221.14 356.57 221.55 358.03 221.95 359.39 222.32 360.66 222.68 361.85 223.02 362.96 223.35 364.01 223.67 364.99 223.97 365.92 224.27 366.81 224.56 367.66 224.84 368.49 225.12 369.29 225.40 370.08 225.67 370.87 225.95 371.66 226.23 372.46 226.51 373.27 226.80 374.12 227.10 375.00 227.48 376.12 227.85 377.24 228.22 378.35 228.59 379.46 228.95 380.55 229.31 381.62 229.67 382.68 230.03 383.72 230.38 384.73 230.73 385.73 231.08 386.69 231.43 387.62 231.77 388.52 232.12 389.39 232.46 390.21 232.80 391.00 233.40 392.30 233.98 393.49 234.56 394.58 235.13 395.58 235.70 396.49 236.26 397.33 236.83 398.10 237.41 398.82 238.00 399.50 238.89 400.38 239.77 401.09 240.67 401.65 241.58 402.10 242.52 402.47 243.50 402.80 244.48 403.05 245.44 403.20 246.43 403.26 247.49 403.28 248.66 403.28 250.00 403.30 250.90 403.32 251.87 403.34 252.89 403.35 253.97 403.36 255.08 403.36 256.20 403.35 257.34 403.33 258.48 403.30 259.60 403.26 260.70 403.20 261.78 403.13 262.87 403.04 263.96 402.95 265.06 402.84 266.15 402.72 267.24 402.59 268.34 402.45 269.43 402.31 270.52 402.16 271.60 402.00 272.63 401.84 273.58 401.68 274.49 401.51 275.39 401.34 276.30 401.16 277.27 400.96 278.32 400.75 279.48 400.52 280.80 400.27 282.30 400.00 283.09 399.86 283.92 399.71 284.79 399.56 285.70 399.40 286.64 399.24 287.61 399.07 288.61 398.90 289.64 398.72 290.69 398.54 291.75 398.36 292.83 398.18 293.92 397.99 295.01 397.80 296.11 397.61 297.21 397.42 298.30 397.23 299.39 397.04 300.46 396.85 301.53 396.67 302.57 396.48 303.60 396.30 304.61 396.12 305.63 395.94 306.64 395.75 307.66 395.57 308.67 395.39 309.68 395.20 310.70 395.02 311.71 394.83 312.72 394.65 313.74 394.46 314.75 394.28 315.76 394.09 316.78 393.90 317.79 393.71 318.81 393.53 319.82 393.34 320.84 393.15 321.85 392.96 322.87 392.78 323.88 392.59 324.90 392.40 325.92 392.21 326.93 392.02 327.95 391.83 328.97 391.64 329.99 391.45 331.01 391.26 332.03 391.07 333.05 390.87 334.07 390.68 335.09 390.49 336.11 390.30 337.13 390.11 338.15 389.91 339.17 389.72 340.19 389.53 341.21 389.34 342.23 389.15 343.25 388.96 344.27 388.77 345.28 388.59 346.30 388.40 347.32 388.21 348.33 388.03 349.35 387.85 350.36 387.67 351.38 387.48 352.39 387.30 353.40 387.12 354.42 386.94 355.43 386.76 356.44 386.58 357.46 386.40 358.47 386.23 359.48 386.05 360.50 385.87 361.51 385.69 362.52 385.51 363.54 385.33 364.55 385.15 365.57 384.96 366.58 384.78 367.60 384.60 368.62 384.42 369.64 384.23 370.66 384.05 371.68 383.86 372.70 383.68 373.72 383.50 374.74 383.31 375.76 383.13 376.79 382.94 377.81 382.76 378.83 382.57 379.85 382.38 380.87 382.20 381.89 382.01 382.91 381.82 383.93 381.64 384.95 381.45 385.96 381.26 386.98 381.08 387.99 380.89 389.00 380.70 389.96 380.52 390.81 380.36 391.59 380.21 392.31 380.07 392.97 379.93 393.60 379.81 394.21 379.68" stroke-dasharray="3.40 7.40" stroke-dashoffset="8.37" />
<path d="M394.21 379.68 394.83 379.56 395.46 379.43 396.12 379.29 396.82 379.15 397.59 379.00 398.44 378.83 399.39 378.65 400.44 378.45 401.62 378.23 402.95 377.98 404.43 377.71 406.09 377.40 407.94 377.07 410.00 376.70 410.65 376.58 411.32 376.46 412.00 376.34 412.70 376.22 413.42 376.09 414.15 375.96 414.90 375.83 415.66 375.69 416.44 375.55 417.23 375.41 418.04 375.27 418.86 375.12 419.70 374.97 420.54 374.82 421.41 374.67 422.28 374.52 423.16 374.36 424.06 374.20 424.97 374.04 425.89 373.88 426.82 373.71 427.77 373.55 428.72 373.38 429.68 373.21 430.65 373.04 431.63 372.87 432.62 372.69 433.62 372.52 434.63 372.34 435.65 372.16 436.67 371.98 437.70 371.80 438.74 371.62 439.78 371.43 440.83 371.25 441.88 371.06 442.95 370.88 444.01 370.69 445.08 370.50 446.16 370.31 447.24 370.12 448.33 369.93 449.41 369.74 450.51 369.55 451.60 369.36 452.70 369.17 453.80 368.98 454.90 368.78 456.00 368.59 457.10 368.40 458.21 368.20 459.32 368.01 460.42 367.82 461.53 367.62 462.63 367.43 463.74 367.24 464.84 367.04 465.94 366.85 467.04 366.66 468.14 366.47 469.24 366.28 470.33 366.09 471.42 365.89 472.51 365.71 473.59 365.52 474.67 365.33 475.75 365.14 476.82 364.95 477.89 364.77 478.95 364.58 480.00 364.40 480.93 364.24 481.87 364.07 482.81 363.91 483.75 363.75 484.70 363.58 485.65 363.42 486.60 363.25 487.55 363.08 488.50 362.92 489.46 362.75 490.42 362.58 491.38 362.42 492.34 362.25 493.31 362.08 494.27 361.91 495.24 361.74 496.21 361.57 497.19 361.40 498.16 361.23 499.14 361.06 500.12 360.89 501.10 360.72 502.08 360.55 503.06 360.38 504.05 360.21 505.03 360.04 506.02 359.86 507.01 359.69 508.00 359.52 508.99 359.35 509.99 359.17 510.98 359.00 511.98 358.83 512.98 358.66 513.97 358.48 514.97 358.31 515.97 358.13 516.98 357.96 517.98 357.79 518.98 357.61 519.99 357.44 520.99 357.26 522.00 357.09 523.00 356.92 524.01 356.74 525.02 356.57 526.02 356.39 527.03 356.22 528.04 356.04 529.05 355.87 530.06 355.70 531.07 355.52 532.08 355.35 533.09 355.17 534.10 355.00 535.11 354.82 536.13 354.65 537.14 354.48 538.15 354.30 539.16 354.13 540.17 353.96 541.18 353.78 542.19 353.61 543.20 353.44 544.21 353.26 545.22 353.09 546.23 352.92 547.24 352.75 548.25 352.57 549.26 352.40 550.26 352.23 551.27 352.06 552.28 351.89 553.28 351.72" stroke-dasharray="3.40 7.40" stroke-dashoffset="7.04" />
<path d="M553.28 351.72 554.29 351.55 555.29 351.38 556.30 351.21 557.30 351.04 558.30 350.87 559.30 350.70 560.29 350.53 561.28 350.37 562.27 350.20 563.25 350.03 564.24 349.87 565.24 349.70 566.23 349.54 567.22 349.37 568.21 349.20 569.20 349.04 570.19 348.87 571.19 348.71 572.18 348.54 573.17 348.38 574.17 348.21 575.16 348.04 576.16 347.88 577.15 347.71 578.15 347.55 579.14 347.38 580.14 347.22 581.14 347.05 582.13 346.89 583.13 346.72 584.13 346.56 585.12 346.39 586.12 346.23 587.12 346.07 588.12 345.90 589.12 345.74 590.11 345.57 591.11 345.41 592.11 345.24 593.11 345.08 594.11 344.91 595.11 344.75 596.11 344.59 597.11 344.42 598.11 344.26 599.11 344.09 600.11 343.93 601.11 343.77 602.11 343.60 603.10 343.44 604.10 343.28 605.10 343.11 606.10 342.95 607.10 342.78 608.10 342.62 609.10 342.46 610.10 342.29 611.10 342.13 612.10 341.97 613.10 341.80 614.10 341.64 615.10 341.48 616.10 341.31 617.10 341.15 618.09 340.99 619.09 340.82 620.09 340.66 621.09 340.50 622.09 340.33 623.08 340.17 624.08 340.01 625.08 339.85 626.08 339.68 627.07 339.52 628.07 339.36 629.07 339.19 630.06 339.03 631.06 338.87 632.05 338.70 633.05 338.54 634.04 338.38 635.04 338.21 636.03 338.05 637.02 337.89 638.02 337.73 639.01 337.56 640.00 337.40 640.99 337.24 641.98 337.07 642.97 336.91 643.97 336.75 644.96 336.59 645.95 336.42 646.94 336.26 647.93 336.10 648.92 335.93 649.91 335.77 650.90 335.61 651.89 335.44 652.88 335.28 653.87 335.12 654.86 334.96 655.85 334.79 656.84 334.63 657.82 334.47 658.81 334.30 659.80 334.14 660.79 333.98 661.78 333.82 662.77 333.65 663.76 333.49 664.74 333.33 665.73 333.17 666.72 333.00 667.71 332.84 668.69 332.68 669.68 332.52 670.67 332.35 671.66 332.19 672.64 332.03 673.63 331.87 674.62 331.70 675.60 331.54 676.59 331.38 677.58 331.22 678.56 331.06 679.55 330.89 680.54 330.73 681.52 330.57 682.51 330.41 683.50 330.25 684.48 330.08 685.47 329.92 686.46 329.76 687.44 329.60 688.43 329.44 689.41 329.28 690.40 329.11 691.39 328.95 692.37 328.79 693.36 328.63 694.35 328.47 695.33 328.31 696.32 328.15 697.30 327.98 698.29 327.82 699.28 327.66 700.26 327.50 701.25 327.34 702.24 327.18 703.22 327.02 704.21 326.86 705.19 326.70 706.18 326.54 707.17 326.38 708.15 326.22 709.14 326.06 710.13 325.90 711.11 325.74 712.10 325.58 713.09 325.42" stroke-dasharray="3.40 7.40" stroke-dashoffset="6.42" />
<path d="M713.09 325.42 714.08 325.26 715.06 325.10 716.05 324.94 717.04 324.78 718.02 324.62 719.01 324.46 720.00 324.30 720.99 324.14 721.98 323.98 722.96 323.82 723.95 323.66 724.94 323.50 725.93 323.35 726.92 323.19 727.90 323.03 728.89 322.87 729.88 322.71 730.87 322.55 731.86 322.39 732.85 322.24 733.84 322.08 734.82 321.92 735.81 321.76 736.80 321.60 737.79 321.45 738.78 321.29 739.77 321.13 740.76 320.97 741.75 320.81 742.74 320.66 743.73 320.50 744.71 320.34 745.70 320.18 746.69 320.03 747.68 319.87 748.67 319.71 749.66 319.55 750.65 319.40 751.64 319.24 752.63 319.08 753.62 318.93 754.61 318.77 755.59 318.61 756.58 318.45 757.57 318.30 758.56 318.14 759.55 317.98 760.54 317.83 761.53 317.67 762.52 317.51 763.50 317.36 764.49 317.20 765.48 317.05 766.47 316.89 767.46 316.73 768.45 316.58 769.43 316.42 770.42 316.26 771.41 316.11 772.40 315.95 773.39 315.80 774.37 315.64 775.36 315.48 776.35 315.33 777.33 315.17 778.32 315.02 779.31 314.86 780.30 314.71 781.28 314.55 782.27 314.39 783.26 314.24 784.24 314.08 785.23 313.93 786.21 313.77 787.20 313.62 788.19 313.46 789.17 313.31 790.16 313.15 791.14 313.00 792.13 312.84 793.11 312.69 794.10 312.53 795.08 312.38 796.07 312.22 797.05 312.06 798.03 311.91 799.02 311.75 800.00 311.60 801.00 311.44 802.00 311.28 803.01 311.13 804.01 310.97 805.03 310.81 806.04 310.65 807.06 310.49 808.09 310.32 809.11 310.16 810.14 310.00 811.17 309.84 812.21 309.67 813.24 309.51 814.28 309.34 815.32 309.18 816.36 309.01 817.41 308.85 818.45 308.68 819.50 308.52 820.54 308.35 821.59 308.19 822.64 308.02 823.69 307.85 824.74 307.69 825.79 307.52 826.84 307.36 827.89 307.19 828.95 307.02 830.00 306.86 831.05 306.69 832.09 306.52 833.14 306.36 834.19 306.19 835.24 306.03 836.28 305.86 837.33 305.70 838.37 305.53 839.41 305.37 840.45 305.21 841.48 305.04 842.51 304.88 843.55 304.72 844.57 304.56 845.60 304.40 846.62 304.24 847.64 304.08 848.66 303.92 849.67 303.76 850.68 303.60 851.69 303.44 852.69 303.28 853.69 303.13 854.68 302.97 855.67 302.82 856.65 302.67 857.63 302.51 858.61 302.36 859.58 302.21 860.54 302.06 861.50 301.91 862.46 301.77 863.40 301.62 864.35 301.47 865.28 301.33 866.21 301.19 867.13 301.04 868.05 300.90 868.96 300.76 869.86 300.63 870.76 300.49 871.65 300.35 872.53 300.22 873.41 300.09" stroke-dasharray="3.40 7.40" stroke-dashoffset="6.23" />
<path d="M873.41 300.09 874.27 299.96 875.13 299.83 875.98 299.70 876.82 299.57 877.66 299.45 878.48 299.32 879.30 299.20 880.56 299.01 881.80 298.83 883.02 298.65 884.21 298.47 885.38 298.30 886.53 298.13 887.66 297.97 888.77 297.81 889.87 297.65 890.95 297.49 892.00 297.34 893.05 297.19 894.08 297.05 895.09 296.90 896.09 296.76 897.08 296.63 898.06 296.49 899.03 296.35 899.98 296.22 900.93 296.09 901.86 295.96 902.79 295.84 903.72 295.71 904.63 295.58 905.55 295.46 906.45 295.34 907.36 295.22 908.26 295.10 909.15 294.98 910.05 294.86 910.95 294.74 911.84 294.62 912.74 294.50 913.64 294.38 914.54 294.26 915.45 294.14 916.36 294.02 917.27 293.90 918.19 293.77 919.12 293.65 920.06 293.53 921.00 293.40 921.95 293.28 922.92 293.15 923.89 293.02 924.87 292.89 925.87 292.75 926.88 292.62 927.91 292.48 928.95 292.34 930.00 292.20 930.94 292.07 931.91 291.94 932.89 291.81 933.90 291.68 934.92 291.54 935.95 291.40 937.01 291.26 938.07 291.12 939.15 290.98 940.24 290.83 941.35 290.69 942.46 290.54 943.59 290.39 944.72 290.24 945.86 290.09 947.00 289.94 948.15 289.79 949.31 289.63 950.47 289.48 951.63 289.33 952.79 289.17 953.95 289.02 955.11 288.87 956.27 288.72 957.43 288.56 958.59 288.41 959.74 288.26 960.88 288.11 962.02 287.96 963.15 287.81 964.27 287.67 965.38 287.52 966.48 287.38 967.58 287.23 968.65 287.09 969.72 286.95 970.77 286.82 971.80 286.68 972.82 286.55 973.82 286.42 974.80 286.29 975.76 286.16 976.71 286.04 977.63 285.92 978.52 285.80 979.40 285.69 980.25 285.58 981.07 285.47 981.87 285.36 982.64 285.26 983.38 285.17 984.10 285.07 984.78 284.98 985.43 284.90 986.05 284.82 986.63 284.74 987.18 284.67 987.70 284.60" stroke-dasharray="3.40 7.40" stroke-dashoffset="6.56" />
<path d="M177.00 70.00 177.05 70.52 177.10 71.09 177.15 71.69 177.21 72.34 177.27 73.02 177.33 73.74 177.39 74.49 177.46 75.28 177.53 76.10 177.60 76.95 177.67 77.83 177.75 78.74 177.83 79.68 177.91 80.64 177.99 81.63 178.08 82.64 178.17 83.67 178.26 84.72 178.35 85.79 178.44 86.88 178.54 87.98 178.64 89.09 178.74 90.22 178.84 91.36 178.94 92.51 179.05 93.67 179.16 94.83 179.27 96.00 179.38 97.18 179.49 98.36 179.61 99.54 179.72 100.72 179.84 101.90 179.96 103.08 180.08 104.25 180.20 105.42 180.32 106.58 180.45 107.73 180.57 108.87 180.70 110.00 180.80 110.90 180.91 111.81 181.02 112.72 181.13 113.63 181.24 114.55 181.35 115.48 181.47 116.41 181.58 117.34 181.70 118.28 181.82 119.22 181.95 120.16 182.07 121.11 182.20 122.06 182.32 123.02 182.45 123.98 182.58 124.95 182.71 125.92 182.84 126.89 182.97 127.87 183.11 128.85 183.24 129.83 183.38 130.82 183.51 131.82 183.65 132.81 183.79 133.81 183.93 134.82 184.06 135.83 184.20 136.84 184.34 137.85 184.48 138.87 184.62 139.90 184.76 140.92 184.90 141.95 185.04 142.99 185.18 144.02 185.32 145.06 185.45 146.11 185.59 147.16 185.73 148.21 185.87 149.26 186.00 150.32 186.14 151.38 186.28 152.45 186.41 153.52 186.55 154.59 186.68 155.67 186.81 156.74 186.94 157.83 187.07 158.91 187.20 160.00 187.31 160.93 187.42 161.87 187.53 162.82 187.63 163.77 187.74 164.74 187.85 165.71 187.96 166.70 188.07 167.69 188.18 168.68 188.29 169.69 188.39 170.70 188.50 171.72 188.61 172.74 188.72 173.77 188.83 174.80 188.94 175.83 189.04 176.87 189.15 177.92 189.26 178.97 189.37 180.02 189.48 181.07 189.59 182.12 189.69 183.18 189.80 184.24 189.91 185.30 190.02 186.36 190.12 187.42 190.23 188.48 190.34 189.53 190.45 190.59 190.55 191.65 190.66 192.70 190.77 193.75 190.88 194.80 190.98 195.85 191.09 196.89 191.20 197.93 191.30 198.96 191.41 199.99 191.52 201.02 191.62 202.03 191.73 203.05 191.83 204.06 191.94 205.06 192.04 206.05 192.15 207.04 192.25 208.01 192.36 208.98 192.46 209.94 192.57 210.90 192.67 211.84 192.78 212.77 192.88 213.70 192.98 214.61 193.09 215.51 193.19 216.40 193.29 217.28 193.40 218.15 193.50 219.00 193.65 220.21 193.79 221.39 193.93 222.54 194.07 223.68 194.21 224.79 194.35 225.88 194.49 226.95 194.63 228.00 194.76 229.03 194.89 230.05 195.03 231.06 195.16 232.05 195.29 233.02 195.42 233.99 195.55 234.94 195.68 235.89 195.81 236.83 195.95 237.76 196.08 238.68 196.21 239.60 196.34 240.52 196.47 241.44 196.61 242.35 196.74 243.27 196.88 244.18 197.02 245.10 197.15 246.02 197.29 246.95 197.43 247.89 197.58 248.83 197.72 249.78 197.87 250.74 198.02 251.71 198.17 252.69 198.32 253.68 198.48 254.69 198.64 255.72 198.80 256.76 198.96 257.82 199.13 258.90 199.30 260.00 199.44 260.91 199.58 261.84 199.73 262.77 199.87 263.71 200.02 264.66 200.16 265.61 200.31 266.58 200.46 267.55 200.61 268.52 200.76 269.50 200.91 270.49 201.06 271.49 201.21 272.48 201.36 273.49 201.52 274.50 201.67 275.51 201.83 276.52 201.99 277.54 202.15 278.57 202.31 279.59 202.47 280.62 202.63 281.65 202.79 282.68 202.95 283.72 203.12 284.75 203.28 285.79 203.45 286.82 203.62 287.86 203.79 288.89 203.96 289.93 204.13 290.96 204.30 292.00 204.48 293.03 204.65 294.06 204.83 295.08 205.00 296.11 205.18 297.13 205.36 298.15 205.54 299.16 205.72 300.18 205.90 301.18 206.09 302.19 206.27 303.18 206.46 304.18 206.65 305.16 206.83 306.14 207.02 307.12 207.21 308.09 207.41 309.05 207.60 310.00 207.81 311.04 208.03 312.08 208.25 313.13 208.48 314.18 208.71 315.24 208.94 316.30 209.18 317.37 209.42 318.44 209.67 319.51 209.91 320.58 210.16 321.65 210.41 322.72 210.67 323.80 210.92 324.87 211.18 325.94 211.44 327.01 211.69 328.07 211.95 329.14 212.22 330.19 212.48 331.25 212.74 332.30 213.00 333.34 213.26 334.38 213.52 335.40 213.78 336.43 214.04 337.44 214.30 338.44 214.56 339.44 214.82 340.42 215.07 341.39 215.32 342.36 215.57 343.31 215.82 344.24 216.06 345.17 216.30 346.08 216.54 346.97 216.78 347.85 217.01 348.72 217.23 349.57 217.46 350.40 217.68 351.21 217.89 352.01 218.10 352.79 218.31 353.55 218.51 354.28 218.70 355.00 219.11 356.50 219.50 357.89 219.87 359.20 220.22 360.41 220.56 361.55 220.89 362.62 221.20 363.63 221.51 364.58 221.80 365.48 222.09 366.34 222.37 367.16 222.65 367.95 222.92 368.72 223.20 369.48 223.47 370.23 223.74 370.99 224.02 371.74 224.31 372.52 224.60 373.31 224.89 374.14 225.20 375.00 225.56 376.03 225.93 377.05 226.30 378.06 226.67 379.07 227.04 380.06 227.41 381.06 227.78 382.04 228.15 383.01 228.52 383.97 228.89 384.92 229.26 385.85 229.63 386.78 229.99 387.69 230.36 388.58 230.72 389.46 231.08 390.33 231.44 391.17 231.80 392.00 232.29 393.12 232.77 394.22 233.25 395.30 233.73 396.35 234.20 397.37 234.67 398.37 235.14 399.34 235.61 400.28 236.08 401.18 236.56 402.06 237.03 402.91 237.51 403.72 238.00 404.50 238.71 405.56 239.42 406.55 240.14 407.46 240.87 408.32 241.59 409.11 242.32 409.85 243.05 410.54 243.78 411.19 244.50 411.80 245.41 412.51 246.28 413.12 247.15 413.65 248.04 414.11 248.96 414.51 249.94 414.87 251.00 415.20 251.87 415.43 252.76 415.62 253.67 415.77 254.61 415.90 255.59 416.01 256.61 416.09 257.68 416.17 258.81 416.23 260.00 416.30 260.79 416.34 261.47 416.39 262.10 416.42 262.70 416.45 263.31 416.48 263.97 416.50 264.72 416.51 265.58 416.52 266.61 416.51 267.82 416.50 269.27 416.48 270.98 416.44 273.00 416.40 273.68 416.38 274.38 416.37 275.12 416.35 275.89 416.33 276.69 416.31 277.52 416.28 278.37 416.26 279.24 416.24 280.14 416.21 281.07 416.18 282.01 416.16 282.98 416.13 283.97 416.10 284.97 416.07 285.99 416.03 287.03 416.00 288.08 415.97 289.14 415.94 290.22 415.90 291.31 415.87 292.40 415.83 293.51 415.79 294.62 415.76 295.75 415.72 296.87 415.68 298.00 415.65 299.13 415.61 300.27 415.57 301.40 415.53 302.54 415.49 303.67 415.45 304.80 415.42 305.93 415.38 307.05 415.34 308.16 415.30 309.27 415.26 310.37 415.22 311.45 415.19 312.53 415.15 313.59 415.11 314.64 415.07 315.68 415.04 316.70 415.00 317.71 414.96 318.72 414.93 319.73 414.89 320.74 414.85 321.75 414.81 322.76 414.78 323.77 414.74 324.78 414.70 325.79 414.66 326.80 414.62 327.81 414.58 328.81 414.54 329.82 414.50 330.83 414.46 331.83 414.42 332.84 414.38 333.85 414.34 334.85 414.29 335.86 414.25 336.87 414.21 337.87 414.17 338.88 414.13 339.88 414.09 340.89 414.05 341.89 414.01 342.90 413.96 343.91 413.92 344.91 413.88 345.92 413.84 346.92 413.80 347.93 413.76 348.93 413.72 349.94 413.68 350.94 413.64 351.95 413.60 352.96 413.56 353.96 413.52 354.97 413.49 355.97 413.45 356.98 413.41 357.99 413.37 358.99 413.34 360.00 413.30 361.01 413.26 362.01 413.23 363.02 413.19 364.03 413.16 365.03 413.13 366.04 413.10 367.05 413.06 368.05 413.03 369.06 413.00 370.07 412.97 371.07 412.94 372.08 412.91 373.09 412.88 374.09 412.85 375.10 412.82 376.11 412.79 377.11 412.76 378.12 412.73 379.13 412.70 380.13 412.67 381.14 412.64 382.15 412.61" stroke-dasharray="26.90 16.50" stroke-dashoffset="22.67" />
<path d="M382.15 412.61 383.15 412.58 384.16 412.55 385.17 412.52 386.17 412.49 387.18 412.46 388.19 412.43 389.19 412.40 390.20 412.37 391.21 412.33 392.22 412.30 393.22 412.27 394.23 412.23 395.24 412.20 396.25 412.16 397.25 412.13 398.26 412.09 399.27 412.06 400.28 412.02 401.28 411.98 402.29 411.94 403.30 411.90 404.31 411.86 405.32 411.82 406.33 411.77 407.33 411.73 408.34 411.68 409.35 411.64 410.36 411.59 411.37 411.54 412.38 411.50 413.39 411.45 414.40 411.40 415.41 411.35 416.42 411.30 417.43 411.25 418.44 411.20 419.45 411.14 420.46 411.09 421.47 411.04 422.48 410.99 423.49 410.94 424.50 410.88 425.50 410.83 426.51 410.78 427.52 410.72 428.53 410.67 429.54 410.62 430.55 410.57 431.56 410.52 432.57 410.46 433.58 410.41 434.59 410.36 435.60 410.31 436.61 410.26 437.62 410.21 438.63 410.16 439.64 410.12 440.65 410.07 441.66 410.02 442.67 409.98 443.67 409.93 444.68 409.89 445.69 409.84 446.70 409.80 447.71 409.76 448.72 409.72 449.72 409.68 450.73 409.64 451.74 409.60 452.75 409.56 453.75 409.53 454.76 409.49 455.77 409.46 456.78 409.42 457.78 409.39 458.79 409.35 459.80 409.32 460.81 409.29 461.81 409.25 462.82 409.22 463.83 409.19 464.83 409.16 465.84 409.12 466.85 409.09 467.85 409.06 468.86 409.03 469.87 409.00 470.87 408.96 471.88 408.93 472.89 408.90 473.89 408.87 474.90 408.84 475.91 408.80 476.91 408.77 477.92 408.74 478.93 408.70 479.93 408.67 480.94 408.64 481.95 408.60 482.95 408.57 483.96 408.53 484.97 408.49 485.97 408.46 486.98 408.42 487.99 408.38 488.99 408.34 490.00 408.30 491.01 408.26 492.01 408.22 493.02 408.17 494.03 408.13 495.03 408.09 496.04 408.04 497.05 408.00 498.05 407.95 499.06 407.91 500.07 407.86 501.07 407.82 502.08 407.77 503.09 407.72 504.09 407.68 505.10 407.63 506.11 407.58 507.11 407.53 508.12 407.48 509.13 407.43 510.13 407.39 511.14 407.34 512.15 407.29" stroke-dasharray="26.90 16.50" stroke-dashoffset="35.54" />
<path d="M512.15 407.29 513.15 407.24 514.16 407.19 515.17 407.14 516.17 407.09 517.18 407.04 518.19 407.00 519.19 406.95 520.20 406.90 521.21 406.85 522.22 406.80 523.22 406.75 524.23 406.71 525.24 406.66 526.25 406.61 527.25 406.57 528.26 406.52 529.27 406.48 530.28 406.43 531.28 406.39 532.29 406.34 533.30 406.30 534.31 406.26 535.32 406.21 536.32 406.17 537.33 406.13 538.34 406.09 539.35 406.05 540.35 406.01 541.36 405.97 542.37 405.93 543.38 405.89 544.39 405.85 545.39 405.81 546.40 405.77 547.41 405.73 548.42 405.69 549.42 405.65 550.43 405.61 551.44 405.57 552.45 405.53 553.46 405.50 554.46 405.46 555.47 405.42 556.48 405.38 557.49 405.34 558.50 405.30 559.51 405.27 560.52 405.23 561.53 405.19 562.54 405.15 563.55 405.11 564.56 405.07 565.57 405.03 566.58 405.00 567.59 404.96 568.60 404.92 569.61 404.88 570.62 404.84 571.63 404.80 572.65 404.76 573.66 404.72 574.67 404.68 575.69 404.64 576.70 404.60 577.71 404.56 578.73 404.52 579.75 404.48 580.76 404.43 581.78 404.39 582.80 404.35 583.82 404.31 584.83 404.27 585.85 404.22 586.87 404.18 587.89 404.14 588.91 404.09 589.93 404.05 590.96 404.01 591.98 403.96 593.00 403.92 594.02 403.88 595.04 403.83 596.06 403.79 597.09 403.75 598.11 403.70 599.13 403.66 600.15 403.62 601.17 403.57 602.19 403.53 603.22 403.49 604.24 403.44 605.26 403.40 606.28 403.36 607.30 403.32 608.32 403.28 609.34 403.23 610.35 403.19 611.37 403.15 612.39 403.11 613.41 403.07 614.42 403.03 615.44 402.99 616.45 402.95 617.46 402.91 618.48 402.88 619.49 402.84 620.50 402.80 621.51 402.76 622.52 402.73 623.53 402.69 624.53 402.65 625.54 402.62 626.55 402.58 627.55 402.55 628.56 402.51 629.56 402.48 630.56 402.44 631.57 402.41 632.57 402.38 633.57 402.34 634.57 402.31 635.57 402.28 636.58 402.25 637.58 402.21 638.58 402.18 639.58 402.15 640.58 402.12 641.58 402.08 642.57 402.05" stroke-dasharray="26.90 16.50" stroke-dashoffset="35.54" />
<path d="M642.57 402.05 643.57 402.02 644.57 401.99 645.57 401.96 646.57 401.93 647.57 401.90 648.57 401.87 649.57 401.83 650.57 401.80 651.57 401.77 652.57 401.74 653.57 401.71 654.57 401.68 655.57 401.65 656.57 401.62 657.58 401.59 658.58 401.56 659.58 401.52 660.59 401.49 661.59 401.46 662.59 401.43 663.60 401.40 664.61 401.37 665.61 401.34 666.62 401.31 667.62 401.28 668.63 401.24 669.64 401.21 670.65 401.18 671.65 401.15 672.66 401.12 673.67 401.09 674.68 401.06 675.68 401.03 676.69 401.00 677.70 400.97 678.71 400.94 679.72 400.91 680.73 400.88 681.74 400.85 682.75 400.82 683.75 400.79 684.76 400.76 685.77 400.73 686.78 400.70 687.79 400.67 688.80 400.64 689.81 400.61 690.82 400.58 691.83 400.55 692.84 400.52 693.85 400.49 694.87 400.46 695.88 400.43 696.89 400.40 697.90 400.37 698.91 400.34 699.92 400.31 700.93 400.28 701.94 400.25 702.95 400.22 703.97 400.19 704.98 400.16 705.99 400.13 707.00 400.10 708.01 400.07 709.02 400.04 710.04 400.01 711.05 399.98 712.07 399.95 713.08 399.92 714.10 399.90 715.11 399.87 716.13 399.84 717.14 399.81 718.16 399.78 719.18 399.75 720.20 399.73 721.21 399.70 722.23 399.67 723.25 399.64 724.27 399.61 725.28 399.59 726.30 399.56 727.32 399.53 728.34 399.50 729.35 399.47 730.37 399.44 731.39 399.42 732.40 399.39 733.42 399.36 734.43 399.33 735.45 399.30 736.46 399.27 737.48 399.24 738.49 399.21 739.51 399.18 740.52 399.14 741.53 399.11 742.54 399.08 743.55 399.05 744.56 399.01 745.57 398.98 746.58 398.94 747.58 398.91 748.59 398.87 749.60 398.84 750.60 398.80 751.63 398.76 752.65 398.72 753.67 398.68 754.70 398.64 755.72 398.60 756.74 398.56 757.75 398.51 758.77 398.47 759.79 398.43 760.80 398.38 761.81 398.34 762.83 398.29 763.84 398.25 764.85 398.20 765.86 398.15 766.87 398.11 767.88 398.06 768.89 398.01 769.90 397.96 770.91 397.92 771.92 397.87 772.94 397.82" stroke-dasharray="26.90 16.50" stroke-dashoffset="35.57" />
<path d="M772.94 397.82 773.95 397.77 774.96 397.72 775.97 397.68 776.98 397.63 777.99 397.58 779.00 397.53 780.02 397.49 781.03 397.44 782.05 397.39 783.06 397.34 784.08 397.30 785.10 397.25 786.12 397.21 787.14 397.16 788.16 397.12 789.19 397.07 790.21 397.03 791.24 396.98 792.27 396.94 793.30 396.90 794.29 396.86 795.27 396.82 796.26 396.78 797.25 396.74 798.25 396.70 799.24 396.66 800.23 396.63 801.23 396.59 802.23 396.55 803.22 396.51 804.22 396.47 805.22 396.43 806.22 396.40 807.22 396.36 808.23 396.32 809.23 396.28 810.23 396.25 811.24 396.21 812.24 396.17 813.25 396.14 814.25 396.10 815.26 396.06 816.26 396.03 817.27 395.99 818.27 395.95 819.28 395.92 820.28 395.88 821.29 395.85 822.29 395.81 823.30 395.78 824.30 395.74 825.31 395.71 826.31 395.67 827.31 395.64 828.32 395.60 829.32 395.57 830.32 395.53 831.32 395.50 832.32 395.47 833.32 395.43 834.31 395.40 835.31 395.37 836.31 395.33 837.30 395.30 838.32 395.27 839.33 395.23 840.35 395.20 841.36 395.17 842.38 395.14 843.39 395.10 844.40 395.07 845.42 395.04 846.43 395.01 847.44 394.98 848.45 394.95 849.46 394.92 850.47 394.89 851.49 394.86 852.50 394.83 853.51 394.80 854.52 394.77 855.53 394.74 856.53 394.72 857.54 394.69 858.55 394.66 859.56 394.63 860.57 394.60 861.58 394.57 862.58 394.54 863.59 394.51 864.60 394.49 865.61 394.46 866.61 394.43 867.62 394.40 868.63 394.37 869.63 394.34 870.64 394.31 871.65 394.28 872.65 394.25 873.66 394.22 874.66 394.19 875.67 394.16 876.68 394.13 877.68 394.10 878.69 394.06 879.69 394.03 880.70 394.00 881.71 393.97 882.71 393.93 883.71 393.90 884.72 393.87 885.72 393.83 886.72 393.80 887.73 393.77 888.73 393.73 889.73 393.70 890.73 393.66 891.73 393.63 892.73 393.60 893.73 393.56 894.73 393.53 895.73 393.49 896.73 393.46 897.73 393.42 898.73 393.39 899.73 393.35 900.73 393.32 901.73 393.28 902.72 393.24" stroke-dasharray="26.90 16.50" stroke-dashoffset="36.33" />
<path d="M902.72 393.24 903.72 393.21 904.72 393.17 905.72 393.14 906.72 393.10 907.72 393.07 908.73 393.03 909.73 393.00 910.73 392.96 911.73 392.92 912.73 392.89 913.74 392.85 914.74 392.82 915.74 392.78 916.75 392.75 917.75 392.71 918.76 392.68 919.77 392.64 920.77 392.61 921.78 392.57 922.79 392.53 923.80 392.50 924.82 392.46 925.85 392.43 926.90 392.39 927.97 392.36 929.04 392.32 930.13 392.28 931.23 392.24 932.33 392.20 933.45 392.16 934.57 392.12 935.70 392.08 936.83 392.04 937.96 392.01 939.10 391.97 940.23 391.93 941.37 391.89 942.50 391.85 943.63 391.81 944.76 391.77 945.88 391.73 947.00 391.69 948.11 391.65 949.21 391.61 950.30 391.57 951.38 391.54 952.45 391.50 953.50 391.46 954.54 391.43 955.57 391.39 956.57 391.36 957.56 391.32 958.53 391.29 959.48 391.26 960.41 391.23 961.31 391.20 962.20 391.17 963.05 391.14 963.88 391.12 964.69 391.09 965.46 391.07 966.20 391.04 966.92 391.02 967.60 391.00 969.66 390.94 971.47 390.90 973.04 390.86 974.40 390.84 975.58 390.82 976.59 390.81 977.46 390.80 978.21 390.80 978.86 390.80 979.45 390.81 979.98 390.81 980.49 390.81 981.00 390.80" stroke-dasharray="26.90 16.50" stroke-dashoffset="35.42" />
<path d="M177.00 70.00 177.10 70.52 177.20 71.09 177.31 71.69 177.43 72.34 177.56 73.02 177.69 73.74 177.84 74.49 177.98 75.28 178.14 76.10 178.30 76.95 178.47 77.83 178.64 78.74 178.81 79.68 179.00 80.64 179.18 81.63 179.37 82.64 179.56 83.67 179.76 84.72 179.96 85.79 180.16 86.88 180.37 87.98 180.57 89.09 180.78 90.22 180.99 91.36 181.21 92.51 181.42 93.67 181.63 94.83 181.84 96.00 182.06 97.18 182.27 98.36 182.48 99.54 182.69 100.72 182.90 101.90 183.11 103.08 183.31 104.25 183.52 105.42 183.72 106.58 183.92 107.73 184.11 108.87 184.30 110.00 184.45 110.90 184.60 111.81 184.75 112.72 184.90 113.63 185.05 114.55 185.20 115.48 185.35 116.41 185.50 117.34 185.65 118.28 185.80 119.22 185.94 120.16 186.09 121.11 186.24 122.06 186.39 123.02 186.54 123.98 186.69 124.95 186.84 125.92 186.99 126.89 187.14 127.87 187.29 128.85 187.44 129.83 187.59 130.82 187.74 131.82 187.89 132.81 188.04 133.81 188.20 134.82 188.35 135.83 188.50 136.84 188.66 137.85 188.81 138.87 188.97 139.90 189.12 140.92 189.28 141.95 189.44 142.99 189.60 144.02 189.76 145.06 189.92 146.11 190.08 147.16 190.24 148.21 190.40 149.26 190.57 150.32 190.73 151.38 190.90 152.45 191.07 153.52 191.24 154.59 191.41 155.67 191.58 156.74 191.75 157.83 191.92 158.91 192.10 160.00 192.25 160.93 192.40 161.87 192.55 162.82 192.71 163.77 192.87 164.74 193.02 165.71 193.18 166.70 193.34 167.69 193.50 168.68 193.67 169.69 193.83 170.70 194.00 171.72 194.16 172.74 194.33 173.77 194.50 174.80 194.66 175.83 194.83 176.87 195.00 177.92 195.17 178.97 195.35 180.02 195.52 181.07 195.69 182.12 195.86 183.18 196.04 184.24 196.21 185.30 196.38 186.36 196.56 187.42 196.73 188.48 196.91 189.53 197.08 190.59 197.26 191.65 197.43 192.70 197.60 193.75 197.78 194.80 197.95 195.85 198.12 196.89 198.30 197.93 198.47 198.96 198.64 199.99 198.81 201.02 198.99 202.03 199.16 203.05 199.33 204.06 199.49 205.06 199.66 206.05 199.83 207.04 200.00 208.01 200.16 208.98 200.33 209.94 200.49 210.90 200.65 211.84 200.81 212.77 200.97 213.70 201.13 214.61 201.29 215.51 201.44 216.40 201.60 217.28 201.75 218.15 201.90 219.00 202.11 220.21 202.33 221.39 202.53 222.54 202.74 223.68 202.94 224.79 203.14 225.88 203.34 226.95 203.53 228.00 203.73 229.03 203.92 230.05 204.11 231.06 204.30 232.05 204.48 233.02 204.67 233.99 204.85 234.94 205.04 235.89 205.22 236.83 205.40 237.76 205.58 238.68 205.77 239.60 205.95 240.52 206.13 241.44 206.31 242.35 206.49 243.27 206.67 244.18 206.86 245.10 207.04 246.02 207.23 246.95 207.41 247.89 207.60 248.83 207.79 249.78 207.98 250.74 208.17 251.71 208.37 252.69 208.57 253.68 208.76 254.69 208.97 255.72 209.17 256.76 209.38 257.82 209.59 258.90 209.80 260.00 209.98 260.91 210.15 261.84 210.33 262.77 210.51 263.71 210.69 264.66 210.88 265.61 211.06 266.58 211.24 267.55 211.43 268.52 211.61 269.50 211.80 270.49 211.99 271.49 212.17 272.48 212.36 273.49 212.55 274.50 212.74 275.51 212.93 276.52 213.13 277.54 213.32 278.57 213.51 279.59 213.71 280.62 213.90 281.65 214.10 282.68 214.29 283.72 214.49 284.75 214.68 285.79 214.88 286.82 215.08 287.86 215.28 288.89 215.48 289.93 215.67 290.96 215.87 292.00 216.07 293.03 216.27 294.06 216.47 295.08 216.68 296.11 216.88 297.13 217.08 298.15 217.28 299.16 217.48 300.18 217.68 301.18 217.88 302.19 218.09 303.18 218.29 304.18 218.49 305.16 218.69 306.14 218.89 307.12 219.10 308.09 219.30 309.05 219.50 310.00 219.72 311.04 219.94 312.08 220.17 313.13 220.40 314.18 220.63 315.24 220.86 316.30 221.10 317.37 221.33 318.44 221.57 319.51 221.81 320.58 222.05 321.65 222.29 322.72 222.53 323.80 222.77 324.87 223.02 325.94 223.26 327.01 223.50 328.07 223.75 329.14 223.99 330.19 224.23 331.25 224.48 332.30 224.72 333.34 224.96 334.38 225.20 335.40 225.44 336.43 225.68 337.44 225.92 338.44 226.16 339.44 226.39 340.42 226.63 341.39 226.86 342.36 227.09 343.31 227.32 344.24 227.54 345.17 227.76 346.08 227.98 346.97 228.20 347.85 228.41 348.72 228.62 349.57 228.83 350.40 229.04 351.21 229.24 352.01 229.43 352.79 229.63 353.55 229.82 354.28 230.00 355.00 230.41 356.57 230.80 358.03 231.18 359.38 231.54 360.65 231.88 361.83 232.21 362.93 232.53 363.97 232.84 364.94 233.14 365.87 233.44 366.75 233.73 367.60 234.01 368.42 234.29 369.22 234.57 370.01 234.85 370.80 235.13 371.59 235.42 372.40 235.71 373.23 236.00 374.10 236.30 375.00 236.66 376.09 237.02 377.20 237.39 378.30 237.75 379.41 238.11 380.52 238.48 381.61 238.84 382.70 239.20 383.77 239.55 384.82 239.90 385.84 240.25 386.84 240.59 387.80 240.93 388.73 241.26 389.62 241.58 390.46 241.90 391.26 242.20 392.00 242.82 393.37 243.39 394.47 243.94 395.39 244.47 396.17 244.98 396.89 245.48 397.60 245.99 398.39 246.50 399.30 246.95 400.20 247.39 401.13 247.82 402.08 248.24 403.04 248.67 404.02 249.10 405.01 249.55 406.01 250.01 407.00 250.50 408.00 250.95 408.90 251.42 409.81 251.89 410.73 252.37 411.66 252.86 412.59 253.37 413.52 253.88 414.45 254.41 415.37 254.95 416.29 255.50 417.20 256.07 418.11 256.66 419.02 257.26 419.93 257.87 420.83 258.49 421.74 259.13 422.63 259.77 423.52 260.41 424.40 261.05 425.26 261.70 426.10 262.35 426.92 263.01 427.73 263.68 428.51 264.35 429.28 265.02 430.05 265.70 430.81 266.38 431.57 267.06 432.34 267.73 433.11 268.40 433.90 269.06 434.70 269.72 435.51 270.37 436.33 271.01 437.15 271.66 437.97 272.31 438.79 272.97 439.60 273.64 440.41 274.31 441.21 275.00 442.00 275.70 442.78 276.41 443.54 277.13 444.30 277.85 445.06 278.58 445.81 279.32 446.55 280.06 447.29 280.80 448.03 281.55 448.76 282.30 449.50 283.05 450.24 283.80 450.97 284.56 451.70 285.32 452.44 286.08 453.16 286.85 453.88 287.63 454.60 288.41 455.31 289.20 456.01 290.00 456.70 290.81 457.38 291.63 458.05 292.45 458.71 293.29 459.36 294.12 460.01 294.97 460.65 295.82 461.29 296.68 461.92 297.54 462.56 298.40 463.20 299.27 463.84 300.15 464.48 301.03 465.13 301.92 465.77 302.82 466.41 303.72 467.04 304.61 467.67 305.51 468.29 306.41 468.90 307.30 469.50 308.19 470.09 309.07 470.68 309.95 471.25 310.84 471.82 311.72 472.39 312.60 472.94 313.49 473.49 314.39 474.04 315.29 474.57 316.20 475.10 317.12 475.62 318.05 476.13 318.98 476.62 319.92 477.12 320.87 477.60" stroke-dasharray="3.40 7.40" stroke-dashoffset="1.05" />
<path d="M320.87 477.60 321.82 478.08 322.76 478.56 323.71 479.04 324.66 479.52 325.60 480.00 326.54 480.49 327.47 480.97 328.40 481.46 329.33 481.95 330.26 482.43 331.20 482.91 332.14 483.39 333.08 483.87 334.04 484.34 335.00 484.80 335.98 485.26 336.96 485.72 337.96 486.17 338.96 486.62 339.96 487.06 340.97 487.50 341.98 487.94 342.99 488.36 344.00 488.79 345.00 489.20 346.00 489.60 347.00 490.00 348.00 490.39 349.00 490.77 350.00 491.14 351.00 491.52 352.00 491.89 353.00 492.26 354.00 492.63 355.00 493.00 356.00 493.38 356.99 493.76 357.98 494.14 358.98 494.52 359.97 494.90 360.96 495.28 361.96 495.64 362.97 496.01 363.98 496.36 365.00 496.70 366.03 497.03 367.07 497.35 368.11 497.66 369.16 497.96 370.22 498.26 371.28 498.55 372.33 498.84 373.39 499.12 374.45 499.41 375.50 499.70 376.55 499.99 377.60 500.28 378.65 500.57 379.70 500.86 380.75 501.14 381.80 501.43 382.85 501.70 383.90 501.98 384.95 502.24 386.00 502.50 387.05 502.75 388.10 502.99 389.15 503.23 390.20 503.46 391.25 503.69 392.30 503.91 393.35 504.13 394.40 504.35 395.45 504.58 396.50 504.80 397.55 505.03 398.60 505.26 399.64 505.49 400.69 505.72 401.73 505.94 402.78 506.17 403.83 506.39 404.88 506.60 405.94 506.80 407.00 507.00 408.07 507.18 409.14 507.36 410.22 507.52 411.30 507.68 412.39 507.84 413.47 507.99 414.56 508.14 415.64 508.29 416.72 508.44 417.80 508.60 418.87 508.76 419.95 508.92 421.02 509.09 422.10 509.25 423.17 509.42 424.24 509.58 425.31 509.74 426.37 509.90 427.44 510.05 428.50 510.20 429.51 510.34 430.43 510.46 431.31 510.57 432.17 510.68 433.06 510.79" stroke-dasharray="3.40 7.40" stroke-dashoffset="7.07" />
<path d="M433.06 510.79 434.00 510.91 435.03 511.03 436.18 511.17 437.49 511.32 439.00 511.50 439.79 511.59 440.64 511.69 441.52 511.80 442.45 511.91 443.41 512.03 444.41 512.15 445.43 512.27 446.48 512.40 447.56 512.52 448.65 512.65 449.75 512.78 450.87 512.91 451.99 513.04 453.12 513.17 454.25 513.30 455.37 513.43 456.49 513.55 457.59 513.67 458.68 513.78 459.75 513.89 460.80 514.00 461.84 514.10 462.87 514.20 463.91 514.30 464.94 514.39 465.98 514.49 467.01 514.58 468.04 514.67 469.08 514.75 470.11 514.84 471.15 514.93 472.18 515.01 473.21 515.09 474.25 515.17 475.28 515.26 476.31 515.34 477.34 515.41 478.37 515.49 479.41 515.57 480.44 515.65 481.47 515.72 482.50 515.80 483.53 515.88 484.56 515.95 485.59 516.03 486.62 516.10 487.65 516.17 488.68 516.24 489.71 516.31 490.74 516.38 491.76 516.45 492.79 516.52 493.82 516.59 494.85 516.66 495.88 516.72 496.90 516.79 497.93 516.85 498.96 516.91 499.99 516.97 501.02 517.03 502.04 517.09 503.07 517.14 504.10 517.20 505.14 517.25 506.20 517.31 507.27 517.36 508.35 517.41 509.44 517.46 510.54 517.51 511.64 517.56 512.75 517.60 513.85 517.65 514.94 517.69 516.02 517.73 517.09 517.78 518.15 517.82 519.19 517.86 520.21 517.89 521.20 517.93 522.17 517.97 523.10 518.00 524.01 518.04 524.87 518.07 525.70 518.10 527.06 518.15 528.31 518.20 529.48 518.25 530.57 518.30 531.60 518.34 532.58 518.38 533.51 518.41 534.41 518.44 535.30 518.46 536.19 518.48 537.09 518.49 538.00 518.50 539.09 518.50 540.15 518.51 541.17 518.51 542.17 518.50 543.14 518.48 544.11 518.45 545.07 518.41 546.04 518.36 547.01 518.29 548.00 518.20 549.00 518.09 549.99 517.95 550.97 517.80 551.96 517.64 552.95 517.46" stroke-dasharray="3.40 7.40" stroke-dashoffset="6.53" />
<path d="M552.95 517.46 553.94 517.27 554.94 517.08 555.95 516.88 556.97 516.69 558.00 516.50 559.00 516.33 559.95 516.17 560.86 516.03 561.77 515.88 562.71 515.73 563.71 515.55 564.79 515.35 565.97 515.12 567.30 514.84 568.80 514.50 569.58 514.32 570.40 514.13 571.27 513.92 572.17 513.70 573.10 513.47 574.07 513.24 575.06 512.99 576.07 512.74 577.11 512.48 578.16 512.22 579.22 511.95 580.29 511.67 581.37 511.40 582.45 511.12 583.53 510.84 584.61 510.56 585.68 510.28 586.73 510.01 587.77 509.73 588.80 509.46 589.80 509.20 590.79 508.94 591.78 508.68 592.76 508.41 593.75 508.15 594.73 507.88 595.71 507.62 596.69 507.35 597.67 507.08 598.65 506.82 599.62 506.55 600.60 506.28 601.58 506.01 602.56 505.73 603.53 505.46 604.51 505.18 605.49 504.91 606.47 504.63 607.45 504.35 608.43 504.07 609.42 503.78 610.40 503.50 611.39 503.21 612.37 502.92 613.36 502.63 614.35 502.34 615.33 502.04 616.32 501.74 617.31 501.44 618.30 501.14 619.29 500.84 620.28 500.53 621.27 500.23 622.26 499.92 623.25 499.62 624.24 499.31 625.24 499.01 626.23 498.71 627.22 498.40 628.22 498.10 629.21 497.80 630.20 497.50 631.20 497.20 632.20 496.90 633.19 496.61 634.19 496.31 635.20 496.01 636.20 495.72 637.20 495.42 638.21 495.13 639.21 494.83 640.22 494.54 641.22 494.24 642.23 493.95 643.23 493.65 644.23 493.36 645.24 493.06 646.24 492.77 647.24 492.47 648.23 492.18 649.23 491.88 650.22 491.59 651.21 491.30 652.20 491.00 653.18 490.70 654.17 490.41 655.14 490.11 656.12 489.82 657.09 489.52 658.06 489.23 659.03 488.93 660.00 488.64 660.97 488.34 661.94 488.05 662.90 487.75 663.87 487.46 664.83 487.16 665.80 486.87 666.77 486.57 667.74 486.28 668.70 485.98 669.68 485.69 670.65 485.39 671.62 485.10 672.60 484.80 673.57 484.51 674.52 484.22 675.45 483.94 676.37 483.66 677.28 483.38 678.19 483.11 679.09 482.84 680.00 482.56 680.90 482.29 681.82 482.01 682.75 481.74 683.69 481.45 684.64 481.17 685.62 480.87 686.62 480.58 687.65 480.27 688.70 479.96" stroke-dasharray="3.40 7.40" stroke-dashoffset="7.29" />
<path d="M688.70 479.96 689.79 479.63 690.92 479.30 692.09 478.96 693.30 478.60 694.12 478.36 694.96 478.11 695.82 477.86 696.69 477.61 697.58 477.35 698.49 477.08 699.41 476.82 700.35 476.54 701.30 476.27 702.26 475.99 703.23 475.71 704.21 475.43 705.20 475.14 706.20 474.85 707.20 474.56 708.21 474.27 709.23 473.98 710.25 473.68 711.27 473.39 712.30 473.09 713.32 472.79 714.35 472.50 715.37 472.20 716.40 471.91 717.42 471.61 718.43 471.32 719.44 471.03 720.45 470.74 721.45 470.45 722.44 470.16 723.43 469.88 724.40 469.60 725.37 469.32 726.34 469.04 727.30 468.76 728.27 468.48 729.23 468.20 730.20 467.92 731.16 467.64 732.13 467.36 733.09 467.08 734.05 466.80 735.02 466.53 735.98 466.25 736.94 465.97 737.91 465.69 738.87 465.41 739.83 465.13 740.79 464.85 741.76 464.57 742.72 464.30 743.68 464.02 744.65 463.74 745.61 463.46 746.58 463.19 747.54 462.91 748.51 462.63 749.48 462.35 750.45 462.08 751.41 461.80 752.38 461.53 753.36 461.25 754.33 460.98 755.30 460.70 756.27 460.43 757.25 460.15 758.22 459.88 759.20 459.60 760.18 459.33 761.16 459.06 762.14 458.78 763.12 458.51 764.10 458.24 765.08 457.97 766.06 457.69 767.04 457.42 768.03 457.15 769.01 456.88 769.99 456.61 770.97 456.34 771.96 456.07 772.94 455.80 773.93 455.52 774.91 455.25 775.89 454.98 776.88 454.71 777.86 454.44 778.85 454.17 779.83 453.90 780.81 453.63 781.79 453.36 782.78 453.09 783.76 452.81 784.74 452.54 785.72 452.27 786.70 452.00 787.68 451.73 788.66 451.46 789.64 451.18 790.62 450.91 791.60 450.64 792.58 450.36 793.56 450.09 794.54 449.82 795.52 449.54 796.50 449.27 797.48 449.00 798.46 448.72 799.44 448.45 800.42 448.18 801.40 447.90 802.38 447.63 803.36 447.36 804.34 447.09 805.32 446.81 806.30 446.54 807.27 446.27 808.25 446.00 809.23 445.73 810.21 445.45 811.18 445.18 812.16 444.91 813.13 444.64 814.11 444.37 815.08 444.10 816.05 443.84 817.03 443.57 818.00 443.30 818.96 443.04 819.91 442.78 820.83 442.52 821.74 442.27 822.64 442.02 823.53 441.78 824.41 441.54 825.28 441.30 826.15 441.06 827.01 440.82 827.87 440.59 828.73 440.35 829.59 440.12 830.46 439.88 831.33 439.64 832.21 439.40 833.10 439.16 834.00 438.91 834.92 438.66 835.85 438.41 836.80 438.15 837.77 437.89 838.75 437.62 839.76 437.35 840.80 437.07 841.86 436.79 842.95 436.49 844.07 436.19" stroke-dasharray="3.40 7.40" stroke-dashoffset="7.57" />
<path d="M844.07 436.19 845.23 435.88 846.41 435.56 847.64 435.24 848.90 434.90 849.70 434.69 850.51 434.47 851.33 434.25 852.17 434.03 853.02 433.80 853.89 433.57 854.77 433.34 855.66 433.10 856.56 432.86 857.48 432.62 858.40 432.37 859.34 432.12 860.28 431.87 861.23 431.62 862.20 431.37 863.17 431.11 864.15 430.85 865.14 430.59 866.13 430.33 867.13 430.06 868.14 429.79 869.15 429.53 870.17 429.26 871.20 428.99 872.22 428.72 873.26 428.44 874.29 428.17 875.33 427.90 876.37 427.62 877.42 427.35 878.46 427.07 879.51 426.80 880.55 426.52 881.60 426.24 882.65 425.97 883.70 425.69 884.74 425.42 885.79 425.14 886.83 424.87 887.87 424.59 888.91 424.32 889.94 424.05 890.97 423.78 892.00 423.51 893.02 423.24 894.03 422.97 895.05 422.70 896.05 422.44 897.05 422.18 898.04 421.92 899.02 421.66 900.00 421.40 900.99 421.14 901.99 420.88 902.99 420.61 904.00 420.35 905.01 420.08 906.02 419.81 907.04 419.54 908.06 419.28 909.08 419.01 910.10 418.73 911.13 418.46 912.15 418.19 913.18 417.92 914.21 417.65 915.24 417.38 916.27 417.11 917.30 416.83 918.32 416.56 919.35 416.29 920.38 416.02 921.40 415.75 922.43 415.48 923.45 415.21 924.47 414.94 925.49 414.67 926.50 414.40 927.51 414.14 928.52 413.87 929.52 413.61 930.52 413.35 931.52 413.09 932.51 412.83 933.49 412.57 934.47 412.31 935.44 412.06 936.41 411.80 937.37 411.55 938.33 411.30 939.28 411.06 940.22 410.81 941.15 410.57 942.08 410.33 942.99 410.09 943.90 409.86 944.80 409.63 945.69 409.40 946.57 409.17 947.45 408.95 948.31 408.73 949.16 408.51 950.00 408.30 951.19 408.00 952.37 407.70 953.56 407.40 954.75 407.11 955.94 406.81 957.13 406.52 958.31 406.23 959.49 405.94 960.67 405.65 961.83 405.37 962.99 405.09 964.13 404.81 965.27 404.54 966.39 404.27 967.50 404.00 968.59 403.74 969.67 403.48 970.73 403.23 971.76 402.98 972.78 402.74 973.78 402.51 974.75 402.28 975.70 402.05 976.62 401.83 977.52 401.62 978.38 401.42 979.22 401.22 980.03 401.03 980.80 400.85 981.54 400.67 982.25 400.50 982.92 400.35 983.55 400.20 984.14 400.05 984.69 399.92 985.20 399.80" stroke-dasharray="3.40 7.40" stroke-dashoffset="7.46" />
<path d="M177.00 70.00 177.08 70.52 177.17 71.09 177.26 71.69 177.36 72.34 177.47 73.02 177.58 73.74 177.70 74.49 177.82 75.28 177.95 76.10 178.08 76.95 178.22 77.83 178.36 78.74 178.51 79.68 178.66 80.64 178.81 81.63 178.97 82.64 179.13 83.67 179.30 84.72 179.46 85.79 179.63 86.88 179.80 87.98 179.98 89.09 180.15 90.22 180.33 91.36 180.51 92.51 180.69 93.67 180.87 94.83 181.05 96.00 181.23 97.18 181.41 98.36 181.60 99.54 181.78 100.72 181.96 101.90 182.14 103.08 182.32 104.25 182.50 105.42 182.68 106.58 182.85 107.73 183.03 108.87 183.20 110.00 183.34 110.90 183.47 111.81 183.61 112.72 183.75 113.63 183.89 114.55 184.03 115.48 184.16 116.41 184.30 117.34 184.44 118.28 184.58 119.22 184.72 120.16 184.86 121.11 185.00 122.06 185.14 123.02 185.29 123.98 185.43 124.95 185.57 125.92 185.71 126.89 185.86 127.87 186.00 128.85 186.15 129.83 186.29 130.82 186.44 131.82 186.58 132.81 186.73 133.81 186.88 134.82 187.03 135.83 187.18 136.84 187.33 137.85 187.48 138.87 187.63 139.90 187.78 140.92 187.94 141.95 188.09 142.99 188.25 144.02 188.40 145.06 188.56 146.11 188.72 147.16 188.88 148.21 189.04 149.26 189.20 150.32 189.36 151.38 189.53 152.45 189.69 153.52 189.86 154.59 190.02 155.67 190.19 156.74 190.36 157.83 190.53 158.91 190.70 160.00 190.85 160.93 191.00 161.87 191.15 162.82 191.30 163.77 191.45 164.74 191.60 165.71 191.76 166.70 191.92 167.69 192.08 168.68 192.24 169.69 192.40 170.70 192.56 171.72 192.72 172.74 192.89 173.77 193.05 174.80 193.22 175.83 193.39 176.87 193.56 177.92 193.72 178.97 193.89 180.02 194.06 181.07 194.23 182.12 194.41 183.18 194.58 184.24 194.75 185.30 194.92 186.36 195.09 187.42 195.27 188.48 195.44 189.53 195.61 190.59 195.78 191.65 195.96 192.70 196.13 193.75 196.30 194.80 196.48 195.85 196.65 196.89 196.82 197.93 196.99 198.96 197.16 199.99 197.33 201.02 197.50 202.03 197.67 203.05 197.84 204.06 198.01 205.06 198.18 206.05 198.34 207.04 198.51 208.01 198.67 208.98 198.83 209.94 199.00 210.90 199.16 211.84 199.32 212.77 199.48 213.70 199.63 214.61 199.79 215.51 199.95 216.40 200.10 217.28 200.25 218.15 200.40 219.00 200.61 220.21 200.82 221.39 201.03 222.54 201.23 223.68 201.44 224.79 201.64 225.88 201.83 226.95 202.03 228.00 202.22 229.03 202.41 230.05 202.60 231.06 202.79 232.05 202.98 233.02 203.16 233.99 203.35 234.94 203.53 235.89 203.71 236.83 203.90 237.76 204.08 238.68 204.26 239.60 204.44 240.52 204.62 241.44 204.80 242.35 204.99 243.27 205.17 244.18 205.35 245.10 205.54 246.02 205.72 246.95 205.91 247.89 206.10 248.83 206.29 249.78 206.48 250.74 206.67 251.71 206.87 252.69 207.06 253.68 207.26 254.69 207.47 255.72 207.67 256.76 207.88 257.82 208.09 258.90 208.30 260.00 208.48 260.91 208.65 261.84 208.83 262.77 209.01 263.71 209.19 264.66 209.38 265.61 209.56 266.58 209.74 267.55 209.93 268.52 210.11 269.50 210.30 270.49 210.49 271.49 210.67 272.48 210.86 273.49 211.05 274.50 211.24 275.51 211.43 276.52 211.63 277.54 211.82 278.57 212.01 279.59 212.21 280.62 212.40 281.65 212.60 282.68 212.79 283.72 212.99 284.75 213.18 285.79 213.38 286.82 213.58 287.86 213.78 288.89 213.98 289.93 214.17 290.96 214.37 292.00 214.57 293.03 214.77 294.06 214.97 295.08 215.18 296.11 215.38 297.13 215.58 298.15 215.78 299.16 215.98 300.18 216.18 301.18 216.38 302.19 216.59 303.18 216.79 304.18 216.99 305.16 217.19 306.14 217.39 307.12 217.60 308.09 217.80 309.05 218.00 310.00 218.22 311.04 218.44 312.08 218.67 313.13 218.90 314.18 219.13 315.24 219.36 316.30 219.60 317.37 219.83 318.44 220.07 319.51 220.31 320.58 220.55 321.65 220.79 322.72 221.03 323.80 221.27 324.87 221.52 325.94 221.76 327.01 222.00 328.07 222.25 329.14 222.49 330.19 222.73 331.25 222.98 332.30 223.22 333.34 223.46 334.38 223.70 335.40 223.94 336.43 224.18 337.44 224.42 338.44 224.66 339.44 224.89 340.42 225.13 341.39 225.36 342.36 225.59 343.31 225.82 344.24 226.04 345.17 226.26 346.08 226.48 346.97 226.70 347.85 226.91 348.72 227.12 349.57 227.33 350.40 227.54 351.21 227.74 352.01 227.93 352.79 228.13 353.55 228.32 354.28 228.50 355.00 228.91 356.57 229.30 358.03 229.68 359.38 230.04 360.65 230.38 361.83 230.72 362.93 231.04 363.97 231.35 364.94 231.65 365.87 231.95 366.75 232.24 367.60 232.52 368.42 232.81 369.22 233.09 370.01 233.37 370.80 233.65 371.59 233.93 372.40 234.21 373.23 234.50 374.10 234.80 375.00 235.15 376.08 235.50 377.14 235.85 378.19 236.19 379.23 236.53 380.25 236.87 381.26 237.21 382.26 237.55 383.26 237.88 384.24 238.21 385.22 238.54 386.19 238.87 387.16 239.20 388.13 239.53 389.10 239.85 390.06 240.18 391.03 240.50 392.00 240.84 393.02 241.17 394.02 241.49 395.00 241.81 395.97 242.13 396.93 242.44 397.88 242.75 398.83 243.07 399.79 243.39 400.75 243.71 401.72 244.03 402.71 244.36 403.71 244.71 404.74 245.06 405.80 245.42 406.88 245.80 408.00 246.10 408.89 246.40 409.81 246.71 410.77 247.03 411.76 247.35 412.77 247.68 413.80 248.01 414.85 248.35 415.90 248.69 416.97 249.03 418.03 249.37 419.08 249.72 420.13 250.06 421.17 250.41 422.19 250.76 423.18 251.10 424.15 251.45 425.08 251.79 425.98 252.13 426.83 252.47 427.64 252.80 428.40 253.38 429.61 253.95 430.70 254.53 431.69 255.10 432.58 255.68 433.41 256.25 434.18 256.82 434.92 257.40 435.64 257.97 436.36 258.55 437.10 259.12 437.87 259.70 438.70 260.27 439.55 260.82 440.38 261.36 441.20 261.89 442.02 262.43 442.84 262.97 443.66 263.52 444.50 264.10 445.34 264.69 446.21 265.32 447.11 265.99 448.04 266.70 449.00 267.23 449.71 267.79 450.46 268.37 451.23 268.98 452.03 269.60 452.84 270.23 453.67 270.88 454.51 271.53 455.35 272.19 456.19 272.86 457.02 273.52 457.85 274.18 458.66 274.83 459.44 275.47 460.21 276.10 460.94 276.71 461.64 277.30 462.30 278.12 463.17 278.92 463.98 279.70 464.75 280.47 465.47 281.24 466.15 281.99 466.81 282.74 467.46 283.49 468.09 284.24 468.72 284.99 469.36 285.74 470.02 286.50 470.70 287.25 471.39 288.00 472.09 288.73 472.78 289.46 473.47 290.18 474.16 290.91 474.84 291.65 475.53 292.40 476.22 293.17 476.91 293.95 477.61 294.76 478.30 295.60 479.00 296.34 479.60 297.09 480.20 297.86 480.80 298.64 481.41 299.44 482.01 300.24 482.62 301.06 483.23 301.88 483.83 302.72 484.44 303.56 485.05" stroke-dasharray="26.90 16.50" stroke-dashoffset="23.53" />
<path d="M303.56 485.05 304.41 485.66 305.27 486.27 306.13 486.89 307.00 487.50 307.82 488.08 308.67 488.67 309.53 489.27 310.40 489.88 311.29 490.49 312.18 491.10 313.08 491.70 313.97 492.31 314.87 492.90 315.76 493.49 316.64 494.07 317.50 494.63 318.35 495.17 319.19 495.70 320.00 496.20 320.97 496.79 321.90 497.34 322.79 497.85 323.65 498.33 324.50 498.80 325.34 499.26 326.20 499.71 327.07 500.17 327.98 500.64 328.93 501.13 329.93 501.65 331.00 502.20 331.80 502.62 332.64 503.06 333.51 503.51 334.41 503.98 335.33 504.46 336.27 504.95 337.22 505.45 338.18 505.95 339.15 506.44 340.12 506.93 341.08 507.42 342.04 507.89 342.98 508.35 343.90 508.80 344.80 509.22 345.66 509.62 346.50 510.00 347.55 510.45 348.57 510.88 349.56 511.27 350.52 511.63 351.47 511.98 352.40 512.31 353.31 512.63 354.22 512.93 355.13 513.24 356.03 513.54 356.95 513.85 357.87 514.17 358.80 514.50 359.81 514.86 360.79 515.22 361.76 515.58 362.71 515.93 363.67 516.29 364.64 516.64 365.62 516.99 366.62 517.34 367.65 517.70 368.72 518.06 369.83 518.43 371.00 518.80 371.87 519.07 372.77 519.35 373.71 519.63 374.67 519.92 375.66 520.21 376.67 520.51 377.69 520.80 378.72 521.10 379.75 521.39 380.78 521.68" stroke-dasharray="26.90 16.50" stroke-dashoffset="36.61" />
<path d="M380.78 521.68 381.80 521.97 382.81 522.24 383.80 522.52 384.77 522.78 385.72 523.03 386.63 523.27 387.50 523.50 388.68 523.80 389.81 524.08 390.89 524.34 391.94 524.58 392.97 524.81 393.97 525.02 394.96 525.24 395.94 525.44 396.93 525.65 397.93 525.86 398.95 526.08 400.00 526.30 400.97 526.51 401.93 526.72 402.88 526.93 403.83 527.14 404.78 527.35 405.74 527.56 406.70 527.77 407.69 527.98 408.69 528.19 409.72 528.39 410.77 528.60 411.87 528.80 413.00 529.00 413.88 529.15 414.76 529.30 415.65 529.44 416.53 529.59 417.43 529.73 418.34 529.86 419.27 530.00 420.21 530.14 421.17 530.28 422.16 530.42 423.17 530.57 424.22 530.71 425.30 530.86 426.41 531.01 427.56 531.17 428.76 531.33 430.00 531.50 430.85 531.61 431.73 531.73 432.65 531.85 433.59 531.98 434.57 532.11 435.57 532.24 436.59 532.37 437.63 532.51 438.69 532.65 439.75 532.78 440.83 532.92 441.91 533.06 443.00 533.20 444.09 533.34 445.17 533.48 446.25 533.61 447.31 533.74 448.37 533.88 449.41 534.01 450.43 534.13 451.43 534.25 452.41 534.37 453.35 534.49 454.27 534.60 455.15 534.70 456.00 534.80 457.22 534.94 458.35 535.07 459.42 535.19 460.42 535.31 461.37 535.41 462.28 535.51 463.17 535.61 464.04 535.70 464.90 535.79 465.77 535.87" stroke-dasharray="26.90 16.50" stroke-dashoffset="36.43" />
<path d="M465.77 535.87 466.66 535.96 467.58 536.04 468.54 536.13 469.55 536.21 470.62 536.31 471.77 536.40 473.00 536.50 473.86 536.57 474.75 536.64 475.68 536.71 476.65 536.78 477.64 536.85 478.66 536.93 479.70 537.00 480.76 537.08 481.84 537.15 482.93 537.23 484.03 537.30 485.14 537.38 486.25 537.45 487.36 537.52 488.47 537.60 489.57 537.67 490.66 537.74 491.74 537.81 492.80 537.88 493.84 537.94 494.86 538.01 495.85 538.07 496.82 538.13 497.75 538.19 498.64 538.25 499.50 538.30 500.73 538.38 501.88 538.45 502.95 538.51 503.96 538.57 504.92 538.62 505.84 538.68 506.73 538.72 507.60 538.77 508.46 538.82 509.33 538.86 510.22 538.90 511.13 538.95 512.08 538.99 513.08 539.04 514.15 539.09 515.28 539.14 516.50 539.20 517.35 539.24 518.23 539.28 519.14 539.32 520.09 539.36 521.06 539.40 522.06 539.45 523.08 539.49 524.11 539.54 525.17 539.58 526.23 539.63 527.31 539.67 528.39 539.72 529.47 539.76 530.55 539.81 531.63 539.85 532.71 539.90 533.78 539.94 534.83 539.98 535.87 540.03 536.90 540.07 537.90 540.11 538.88 540.15 539.83 540.19 540.75 540.23 541.64 540.26 542.50 540.30 543.74 540.35 544.89 540.40 545.98 540.45 547.02 540.50 548.00 540.54 548.95 540.59 549.87 540.63 550.78 540.67 551.68 540.71 552.59 540.75" stroke-dasharray="26.90 16.50" stroke-dashoffset="36.14" />
<path d="M552.59 540.75 553.52 540.79 554.47 540.83 555.46 540.86 556.49 540.90 557.59 540.93 558.76 540.97 560.00 541.00 560.86 541.02 561.76 541.04 562.69 541.06 563.66 541.08 564.65 541.09 565.66 541.11 566.70 541.12 567.75 541.14 568.82 541.15 569.90 541.17 570.99 541.18 572.09 541.19 573.19 541.21 574.29 541.22 575.38 541.23 576.47 541.25 577.55 541.26 578.61 541.27 579.66 541.29 580.69 541.30 581.70 541.32 582.68 541.33 583.64 541.35 584.56 541.36 585.45 541.38 586.30 541.40 587.60 541.43 588.79 541.47 589.91 541.51 590.95 541.55 591.94 541.59 592.89 541.63 593.81 541.68 594.72 541.72 595.63 541.76 596.55 541.80 597.50 541.84 598.50 541.88 599.55 541.92 600.68 541.95 601.89 541.98 603.20 542.00 604.04 542.01 604.89 542.02 605.75 542.03 606.61 542.04 607.49 542.05 608.37 542.06 609.27 542.06 610.18 542.06 611.10 542.07 612.04 542.07 612.99 542.07 613.97 542.07 614.96 542.08 615.97 542.08 617.00 542.08 618.05 542.08 619.12 542.08 620.22 542.08 621.34 542.08 622.49 542.08 623.67 542.08 624.87 542.08 626.11 542.09 627.37 542.09 628.67 542.09 630.00 542.10 630.82 542.10 631.65 542.11 632.48 542.11 633.33 542.11 634.18 542.12 635.04 542.12 635.91 542.13 636.79 542.13 637.68 542.14 638.58 542.14" stroke-dasharray="26.90 16.50" stroke-dashoffset="35.99" />
<path d="M638.58 542.14 639.49 542.14 640.40 542.15 641.32 542.15 642.26 542.16 643.20 542.16 644.15 542.17 645.11 542.17 646.08 542.18 647.06 542.18 648.04 542.19 649.04 542.19 650.04 542.20 651.05 542.20 652.08 542.21 653.11 542.21 654.15 542.22 655.20 542.22 656.25 542.23 657.32 542.23 658.40 542.24 659.48 542.24 660.57 542.25 661.68 542.25 662.79 542.26 663.91 542.26 665.04 542.27 666.18 542.27 667.33 542.28 668.48 542.28 669.65 542.29 670.82 542.29 672.01 542.30 673.20 542.30 674.07 542.30 674.92 542.31 675.77 542.31 676.61 542.31 677.44 542.32 678.27 542.32 679.09 542.32 679.90 542.33 680.71 542.33 681.52 542.34 682.32 542.34 683.12 542.34 683.92 542.35 684.72 542.35 685.51 542.36 686.31 542.36 687.11 542.36 687.92 542.37 688.73 542.37 689.54 542.38 690.35 542.38 691.18 542.38 692.01 542.39 692.84 542.39 693.69 542.40 694.54 542.40 695.41 542.40 696.28 542.41 697.17 542.41 698.06 542.41 698.97 542.42 699.90 542.42 700.84 542.43 701.79 542.43 702.76 542.43 703.75 542.44 704.76 542.44 705.78 542.44 706.83 542.45 707.89 542.45 708.97 542.45 710.08 542.46 711.21 542.46 712.36 542.46 713.54 542.47 714.74 542.47 715.97 542.47 717.22 542.48 718.50 542.48 719.81 542.48 721.15 542.48 722.52 542.49 723.92 542.49 725.35 542.49" stroke-dasharray="26.90 16.50" stroke-dashoffset="35.68" />
<path d="M725.35 542.49 726.81 542.49 728.31 542.49 729.84 542.50 731.40 542.50 733.00 542.50 733.73 542.50 734.48 542.50 735.23 542.50 736.00 542.50 736.77 542.50 737.56 542.50 738.36 542.50 739.16 542.51 739.98 542.51 740.80 542.51 741.63 542.51 742.48 542.51 743.33 542.51 744.19 542.51 745.06 542.51 745.94 542.51 746.83 542.51 747.72 542.51 748.62 542.51 749.54 542.51 750.45 542.51 751.38 542.51 752.31 542.51 753.26 542.51 754.20 542.51 755.16 542.51 756.12 542.51 757.09 542.51 758.07 542.51 759.05 542.51 760.04 542.51 761.03 542.51 762.03 542.51 763.04 542.51 764.05 542.51 765.07 542.51 766.09 542.51 767.12 542.51 768.15 542.51 769.19 542.51 770.23 542.51 771.28 542.51 772.33 542.51 773.39 542.51 774.45 542.51 775.51 542.51 776.58 542.51 777.65 542.51 778.72 542.51 779.80 542.51 780.88 542.51 781.97 542.51 783.05 542.51 784.14 542.51 785.23 542.51 786.33 542.51 787.43 542.51 788.53 542.51 789.63 542.51 790.73 542.51 791.83 542.51 792.94 542.51 794.05 542.51 795.15 542.51 796.26 542.51 797.37 542.51 798.48 542.51 799.60 542.51 800.71 542.51 801.82 542.51 802.93 542.51 804.04 542.51 805.16 542.51 806.27 542.51 807.38 542.51 808.49 542.51 809.60 542.51 810.71 542.51 811.81 542.51 812.92 542.51" stroke-dasharray="26.90 16.50" stroke-dashoffset="35.75" />
<path d="M812.92 542.51 814.03 542.51 815.13 542.51 816.23 542.51 817.33 542.51 818.43 542.51 819.52 542.51 820.61 542.51 821.70 542.51 822.79 542.51 823.88 542.51 824.96 542.51 826.04 542.51 827.11 542.51 828.18 542.51 829.25 542.51 830.32 542.51 831.38 542.50 832.43 542.50 833.48 542.50 834.53 542.50 835.58 542.50 836.61 542.50 837.65 542.50 838.68 542.50 839.70 542.50 840.72 542.50 841.73 542.50 842.74 542.50 843.74 542.50 844.74 542.50 845.72 542.50 846.71 542.50 847.68 542.50 848.66 542.50 849.62 542.50 850.58 542.50 851.53 542.50 852.47 542.50 853.40 542.50 854.33 542.50 855.25 542.50 856.16 542.50 857.07 542.50 857.96 542.50 858.85 542.50 859.73 542.50 860.60 542.50 861.47 542.50 862.32 542.50 863.16 542.50 864.00 542.50 865.26 542.50 866.53 542.50 867.78 542.50 869.04 542.50 870.29 542.50 871.54 542.50 872.78 542.50 874.02 542.50 875.26 542.50 876.50 542.50 877.73 542.50 878.95 542.50 880.17 542.50 881.39 542.50 882.60 542.50 883.81 542.50 885.01 542.50 886.21 542.51 887.41 542.51 888.60 542.51 889.78 542.51 890.96 542.51 892.13 542.51 893.30 542.51 894.46 542.51 895.62 542.51 896.77 542.51 897.92 542.51 899.06 542.51 900.19 542.51" stroke-dasharray="26.90 16.50" stroke-dashoffset="36.32" />
<path d="M900.19 542.51 901.32 542.51 902.44 542.51 903.55 542.51 904.66 542.51 905.77 542.51 906.86 542.52 907.95 542.52 909.03 542.52 910.11 542.52 911.17 542.52 912.23 542.52 913.29 542.52 914.33 542.52 915.37 542.52 916.40 542.52 917.42 542.52 918.44 542.52 919.44 542.52 920.44 542.52 921.43 542.52 922.41 542.52 923.39 542.52 924.35 542.52 925.31 542.52 926.26 542.52 927.20 542.52 928.13 542.52 929.05 542.52 929.96 542.52 930.86 542.52 931.75 542.52 932.64 542.52 933.51 542.52 934.37 542.52 935.23 542.52 936.07 542.52 936.91 542.52 937.73 542.52 938.54 542.52 939.35 542.52 940.14 542.52 940.92 542.52 941.69 542.52 942.46 542.52 943.20 542.51 943.94 542.51 944.67 542.51 945.39 542.51 946.09 542.51 946.79 542.51 947.47 542.51 948.14 542.51 948.80 542.50 949.44 542.50 950.08 542.50 950.70 542.50 953.32 542.49 955.63 542.48 957.65 542.47 959.40 542.46 960.90 542.45 962.19 542.44 963.28 542.43 964.20 542.42 964.97 542.40 965.62 542.39 966.18 542.37 966.66 542.35 967.09 542.33 967.50 542.32 967.90 542.29 968.33 542.27 968.81 542.25 969.36 542.23 970.00 542.20 971.74 542.11 973.17 542.01 974.35 541.89 975.31 541.77 976.10 541.66 976.75 541.57 977.30 541.50" stroke-dasharray="26.90 16.50" stroke-dashoffset="35.59" />
</g>
<text transform="translate(684 374.5) rotate(-7.2)" font-size="34" letter-spacing="0.35" fill="#000">30L + 6kg ice</text>
<text transform="translate(686 540) rotate(-11.1)" font-size="33.5" fill="#000" letter-spacing="1.7">20L + 8kg ice</text>
<rect x="513.2" y="55" width="455.4" height="139.8" fill="#fff" stroke="#262626" stroke-width="1.8"/>
<g fill="none" stroke="#000" stroke-width="3.6">
<path d="M534.8 82.4H638" stroke-dasharray="3.4 7.4"/>
<path d="M534.8 124.5H644.3"/>
<path d="M534.8 167H644.3" stroke-dasharray="27.3 16.1"/>
</g>
<g fill="#000" font-size="30">
<text x="654" y="96.1">Ambient Temp. 40°C</text>
<text x="654" y="138.7">Ambient Temp. 30°C</text>
<text x="654" y="180">Ambient Temp. 20°C</text>
</g>
</svg>
</body></html>
